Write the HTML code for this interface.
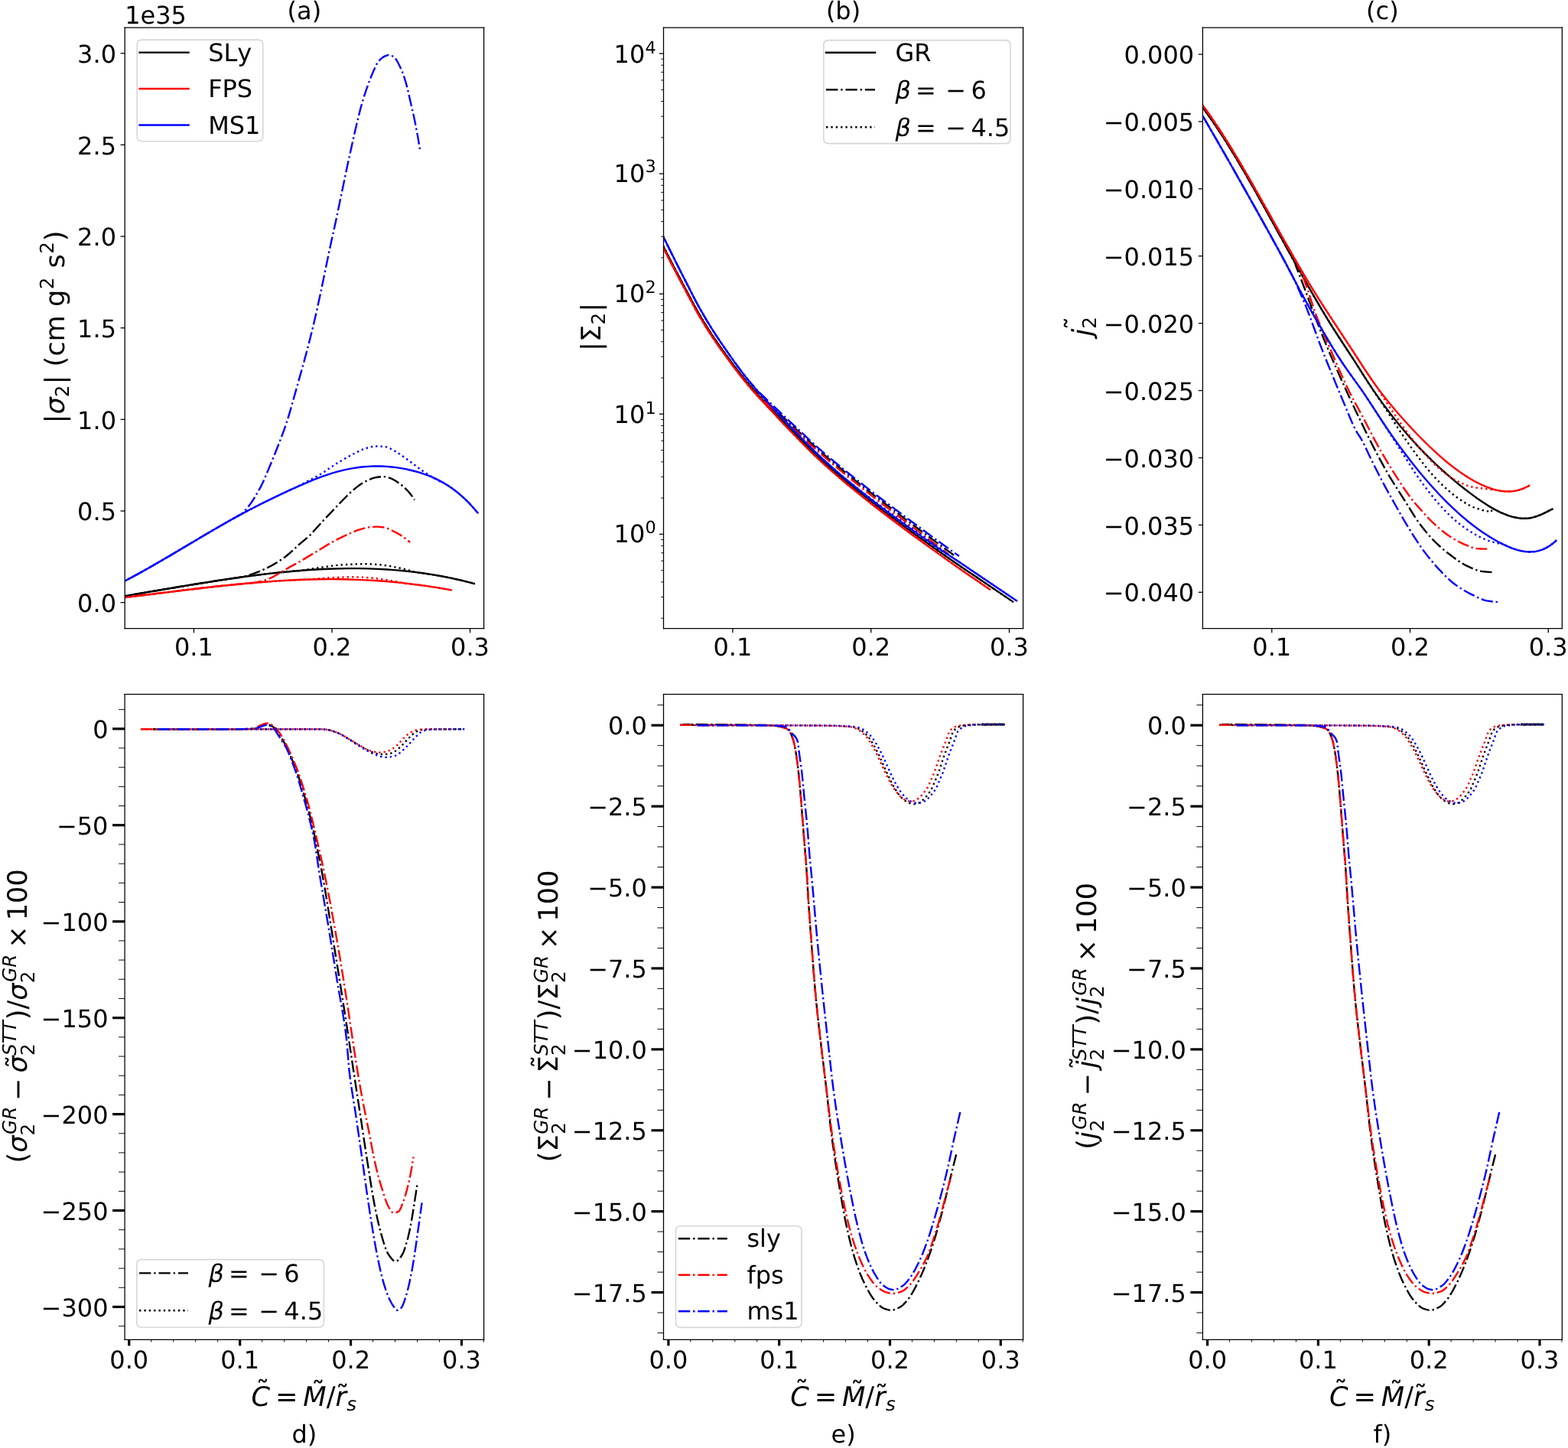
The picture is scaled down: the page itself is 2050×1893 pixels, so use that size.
<!DOCTYPE html>
<html lang="en">
<head>
<meta charset="utf-8">
<title>Figure</title>
<style>html,body{margin:0;padding:0;background:#fff}svg{display:block}text{font-family:"DejaVu Sans","Liberation Sans",sans-serif;font-kerning:none;font-variant-ligatures:none;text-rendering:geometricPrecision}</style>
</head>
<body>
<svg width="2050" height="1893" viewBox="0 0 1281.25 1183.125"><defs><style type="text/css">*{stroke-linejoin: round; stroke-linecap: butt}</style></defs><g><g><path d="M 0 1183.12 L 1281.25 1183.12 L 1281.25 0 L 0 0 z" style="fill: #ffffff"/></g><g><g><path d="M 102 513.56 L 395.38 513.56 L 395.38 22.56 L 102 22.56 z" style="fill: #ffffff"/></g><g><g><g><g><path d="M 0 0 L 0 3.5" transform="translate(158.42 513.56)" style="stroke: #000000; stroke-width: 0.8"/></g></g><g><text style="font-size: 20px; font-family: 'DejaVu Sans', 'Liberation Sans', sans-serif; text-anchor: middle" x="158.42" y="535.76" transform="rotate(-0 158.418269 535.759375)">0.1</text></g></g><g><g><g><path d="M 0 0 L 0 3.5" transform="translate(271.25 513.56)" style="stroke: #000000; stroke-width: 0.8"/></g></g><g><text style="font-size: 20px; font-family: 'DejaVu Sans', 'Liberation Sans', sans-serif; text-anchor: middle" x="271.25" y="535.76" transform="rotate(-0 271.254808 535.759375)">0.2</text></g></g><g><g><g><path d="M 0 0 L 0 3.5" transform="translate(384.09 513.56)" style="stroke: #000000; stroke-width: 0.8"/></g></g><g><text style="font-size: 20px; font-family: 'DejaVu Sans', 'Liberation Sans', sans-serif; text-anchor: middle" x="384.09" y="535.76" transform="rotate(-0 384.091346 535.759375)">0.3</text></g></g></g><g><g><g><g><path d="M 0 0 L -3.5 0" transform="translate(102 492.31)" style="stroke: #000000; stroke-width: 0.8"/></g></g><g><text style="font-size: 20px; font-family: 'DejaVu Sans', 'Liberation Sans', sans-serif; text-anchor: end" x="95" y="499.91" transform="rotate(-0 95 499.910938)">0.0</text></g></g><g><g><g><path d="M 0 0 L -3.5 0" transform="translate(102 417.52)" style="stroke: #000000; stroke-width: 0.8"/></g></g><g><text style="font-size: 20px; font-family: 'DejaVu Sans', 'Liberation Sans', sans-serif; text-anchor: end" x="95" y="425.12" transform="rotate(-0 95 425.119271)">0.5</text></g></g><g><g><g><path d="M 0 0 L -3.5 0" transform="translate(102 342.73)" style="stroke: #000000; stroke-width: 0.8"/></g></g><g><text style="font-size: 20px; font-family: 'DejaVu Sans', 'Liberation Sans', sans-serif; text-anchor: end" x="95" y="350.33" transform="rotate(-0 95 350.327604)">1.0</text></g></g><g><g><g><path d="M 0 0 L -3.5 0" transform="translate(102 267.94)" style="stroke: #000000; stroke-width: 0.8"/></g></g><g><text style="font-size: 20px; font-family: 'DejaVu Sans', 'Liberation Sans', sans-serif; text-anchor: end" x="95" y="275.54" transform="rotate(-0 95 275.535938)">1.5</text></g></g><g><g><g><path d="M 0 0 L -3.5 0" transform="translate(102 193.15)" style="stroke: #000000; stroke-width: 0.8"/></g></g><g><text style="font-size: 20px; font-family: 'DejaVu Sans', 'Liberation Sans', sans-serif; text-anchor: end" x="95" y="200.74" transform="rotate(-0 95 200.744271)">2.0</text></g></g><g><g><g><path d="M 0 0 L -3.5 0" transform="translate(102 118.35)" style="stroke: #000000; stroke-width: 0.8"/></g></g><g><text style="font-size: 20px; font-family: 'DejaVu Sans', 'Liberation Sans', sans-serif; text-anchor: end" x="95" y="125.95" transform="rotate(-0 95 125.952604)">2.5</text></g></g><g><g><g><path d="M 0 0 L -3.5 0" transform="translate(102 43.56)" style="stroke: #000000; stroke-width: 0.8"/></g></g><g><text style="font-size: 20px; font-family: 'DejaVu Sans', 'Liberation Sans', sans-serif; text-anchor: end" x="95" y="51.16" transform="rotate(-0 95 51.160938)">3.0</text></g></g><g><g transform="translate(52.51375 345.885) rotate(-90)"><text><tspan x="0" y="-0.15" style="font-size: 22px; font-family: 'DejaVu Sans', 'Liberation Sans', sans-serif">|</tspan><tspan x="31.75" y="-0.15" style="font-size: 22px; font-family: 'DejaVu Sans', 'Liberation Sans', sans-serif">|</tspan><tspan x="39.17" y="-0.15" style="font-size: 22px; font-family: 'DejaVu Sans', 'Liberation Sans', sans-serif"> </tspan><tspan x="46.16" y="-0.15" style="font-size: 22px; font-family: 'DejaVu Sans', 'Liberation Sans', sans-serif">(</tspan><tspan x="54.74" y="-0.15" style="font-size: 22px; font-family: 'DejaVu Sans', 'Liberation Sans', sans-serif">c</tspan><tspan x="66.84" y="-0.15" style="font-size: 22px; font-family: 'DejaVu Sans', 'Liberation Sans', sans-serif">m</tspan><tspan x="88.27" y="-0.15" style="font-size: 22px; font-family: 'DejaVu Sans', 'Liberation Sans', sans-serif"> </tspan><tspan x="95.26" y="-0.15" style="font-size: 22px; font-family: 'DejaVu Sans', 'Liberation Sans', sans-serif">g</tspan><tspan x="119.84" y="-0.15" style="font-size: 22px; font-family: 'DejaVu Sans', 'Liberation Sans', sans-serif"> </tspan><tspan x="126.83" y="-0.15" style="font-size: 22px; font-family: 'DejaVu Sans', 'Liberation Sans', sans-serif">s</tspan><tspan x="148.9" y="-0.15" style="font-size: 22px; font-family: 'DejaVu Sans', 'Liberation Sans', sans-serif">)</tspan><tspan x="7.41" y="-0.15" style="font-style: italic; font-size: 22px; font-family: 'DejaVu Sans', 'Liberation Sans', sans-serif">σ</tspan><tspan x="21.36" y="3.46" style="font-size: 15.4px; font-family: 'DejaVu Sans', 'Liberation Sans', sans-serif">2</tspan><tspan x="109.44" y="-8.57" style="font-size: 15.4px; font-family: 'DejaVu Sans', 'Liberation Sans', sans-serif">2</tspan><tspan x="138.5" y="-8.57" style="font-size: 15.4px; font-family: 'DejaVu Sans', 'Liberation Sans', sans-serif">2</tspan></text></g></g><g><text style="font-size: 20px; font-family: 'DejaVu Sans', 'Liberation Sans', sans-serif; text-anchor: start" x="102" y="19.56" transform="rotate(-0 102 19.5625)">1e35</text></g></g><g><path d="M 93.75 488.45 L 144.99 479.72 L 163.11 476.71 L 183.11 473.58 L 200.6 471.08 L 209.98 469.86 L 218.72 468.81 L 227.47 467.85 L 236.22 466.99 L 244.97 466.24 L 253.09 465.65 L 261.21 465.17 L 268.71 464.83 L 276.84 464.58 L 284.96 464.45 L 293.08 464.47 L 300.58 464.6 L 308.7 464.9 L 316.2 465.31 L 323.7 465.86 L 331.2 466.55 L 338.7 467.39 L 345.57 468.3 L 353.07 469.44 L 359.94 470.64 L 367.44 472.1 L 374.32 473.6 L 381.19 475.25 L 388.06 477.05" clip-path="url(#pccfc6aae4c)" style="fill: none; stroke: #000000; stroke-width: 1.5"/></g><g><path d="M 93.75 488.45 L 144.99 479.72 L 161.86 476.92 L 181.23 473.86 L 198.1 471.42 L 202.69 470.14 L 206.76 468.81 L 211.76 466.91 L 216.45 464.91 L 219.27 463.53 L 222.08 462.03 L 224.9 460.41 L 228.03 458.49 L 230.22 457.02 L 232.41 455.43 L 234.59 453.73 L 237.1 451.68 L 238.66 450.28 L 243.98 445.24 L 250.55 439.79 L 253.36 437.21 L 255.86 434.57 L 262.12 427.5 L 271.5 417.66 L 277.45 411.32 L 283.39 405.3 L 287.14 401.72 L 289.02 400.09 L 292.15 397.6 L 294.34 395.96 L 296.21 394.69 L 298.09 393.61 L 300.28 392.56 L 302.78 391.45 L 304.66 390.75 L 306.53 390.22 L 308.72 389.84 L 311.23 389.53 L 313.41 389.44 L 314.98 389.62 L 316.86 390.09 L 319.36 390.88 L 320.92 391.58 L 323.11 392.85 L 326.55 395.18 L 328.74 396.87 L 330.93 398.8 L 333.12 400.99 L 334.68 402.77 L 336.56 405.23 L 338.75 408.44" clip-path="url(#pccfc6aae4c)" style="fill: none; stroke-dasharray: 9.6,2.4,1.5,2.4; stroke-dashoffset: 0; stroke: #000000; stroke-width: 1.5"/></g><g><path d="M 93.75 488.45 L 144.36 479.83 L 159.99 477.22 L 178.73 474.24 L 194.98 471.85 L 208.73 470.02 L 221.85 468.45 L 236.22 466.99 L 243.72 466.34 L 243.75 466.44 L 249.69 465.61 L 260.62 463.88 L 270.31 462.49 L 274.69 461.93 L 279.69 461.47 L 290.31 460.93 L 297.5 460.75 L 302.5 460.85 L 306.56 461.12 L 312.5 461.65 L 316.88 462.23 L 320.31 462.86 L 326.25 464.06 L 331.25 465.19 L 336.25 466.53 L 341.25 468.19 L 341.82 467.79 L 343.7 468.04 L 353.07 469.44 L 361.82 470.99 L 368.69 472.36 L 374.94 473.74 L 381.81 475.4 L 388.06 477.05" clip-path="url(#pccfc6aae4c)" style="fill: none; stroke-dasharray: 1.5,2.475; stroke-dashoffset: 0; stroke: #000000; stroke-width: 1.5"/></g><g><path d="M 93.75 489.21 L 159.98 481.08 L 177.48 479.08 L 193.1 477.46 L 209.97 475.92 L 225.6 474.76 L 240.59 473.92 L 248.09 473.62 L 254.96 473.41 L 262.46 473.27 L 269.96 473.23 L 277.46 473.28 L 284.33 473.41 L 291.83 473.65 L 298.7 473.96 L 306.2 474.39 L 313.08 474.88 L 320.57 475.51 L 327.45 476.19 L 334.32 476.95 L 341.19 477.81 L 348.69 478.84 L 355.57 479.9 L 362.44 481.04 L 369.31 482.28" clip-path="url(#pccfc6aae4c)" style="fill: none; stroke: #ff0000; stroke-width: 1.5"/></g><g><path d="M 93.75 489.21 L 148.74 482.43 L 168.11 480.13 L 179.98 478.81 L 190.6 477.7 L 203.73 476.46 L 204.97 476.35 L 205 476.44 L 206.56 476.28 L 208.13 476.06 L 210 475.7 L 213.75 474.77 L 216.88 473.83 L 219.69 472.89 L 221.57 472.07 L 224.07 470.78 L 229.39 467.79 L 236.58 463.39 L 243.14 459.9 L 246.9 457.75 L 268.78 444.45 L 272.53 442.36 L 277.22 439.92 L 283.16 437.05 L 288.48 434.68 L 290.98 433.65 L 293.17 432.88 L 295.36 432.24 L 298.17 431.49 L 300.36 431.01 L 302.23 430.72 L 304.42 430.52 L 306.61 430.39 L 308.49 430.39 L 310.68 430.53 L 313.18 430.82 L 314.43 431.06 L 315.68 431.44 L 317.87 432.34 L 322.24 434.41 L 324.12 435.38 L 326.31 436.63 L 328.81 438.21 L 330.69 439.53 L 332.87 441.25 L 335.06 443.12" clip-path="url(#pccfc6aae4c)" style="fill: none; stroke-dasharray: 9.6,2.4,1.5,2.4; stroke-dashoffset: 0; stroke: #ff0000; stroke-width: 1.5"/></g><g><path d="M 93.75 489.21 L 146.86 482.66 L 163.11 480.71 L 181.86 478.61 L 198.73 476.92 L 213.1 475.67 L 226.22 474.72 L 234.34 474.24 L 241.84 473.87 L 246.84 473.67 L 246.88 473.81 L 267.19 472.15 L 272.81 471.87 L 282.5 471.53 L 289.38 471.44 L 293.75 471.54 L 297.5 471.76 L 303.44 472.21 L 307.5 472.64 L 317.81 474.15 L 323.12 475.03 L 327.5 475.9 L 331.88 477 L 332.45 476.73 L 339.32 477.56 L 346.19 478.49 L 358.07 480.3 L 369.31 482.28" clip-path="url(#pccfc6aae4c)" style="fill: none; stroke-dasharray: 1.5,2.475; stroke-dashoffset: 0; stroke: #ff0000; stroke-width: 1.5"/></g><g><path d="M 93.75 478.88 L 100.63 475.41 L 107.51 471.79 L 115.01 467.71 L 123.14 463.15 L 138.14 454.44 L 172.53 434.07 L 180.66 429.35 L 188.16 425.09 L 195.04 421.29 L 201.3 417.92 L 207.55 414.65 L 214.43 411.16 L 225.68 405.66 L 237.56 400.12 L 247.56 395.66 L 256.32 392.02 L 263.82 389.19 L 267.57 387.89 L 271.32 386.69 L 275.08 385.58 L 278.2 384.74 L 281.95 383.84 L 285.08 383.18 L 289.46 382.4 L 293.21 381.86 L 296.96 381.44 L 300.71 381.14 L 304.46 380.96 L 308.22 380.91 L 311.97 380.97 L 315.72 381.16 L 320.1 381.53 L 323.85 381.98 L 327.6 382.55 L 331.35 383.24 L 335.1 384.06 L 338.85 385 L 342.6 386.06 L 346.36 387.27 L 349.48 388.4 L 352.61 389.65 L 355.74 391.03 L 358.86 392.57 L 361.99 394.27 L 364.49 395.75 L 367.62 397.77 L 370.12 399.52 L 373.24 401.9 L 375.74 403.96 L 378.24 406.17 L 380.75 408.52 L 383.25 411.04 L 385.75 413.72 L 388.25 416.57 L 390.75 419.6" clip-path="url(#pccfc6aae4c)" style="fill: none; stroke: #0000ff; stroke-width: 1.5"/></g><g><path d="M 93.75 478.88 L 100.63 475.41 L 107.51 471.79 L 115.01 467.71 L 122.51 463.5 L 137.52 454.81 L 165.03 438.48 L 176.28 431.88 L 187.54 425.45 L 197.54 419.93 L 197.69 419.69 L 199.88 417.53 L 201.44 415.76 L 203.31 413.43 L 205.5 410.48 L 207.38 407.56 L 210.51 402.27 L 212.38 398.97 L 213.94 395.99 L 215.2 393.34 L 216.45 390.47 L 221.45 378.56 L 224.57 370.93 L 229.89 357.36 L 233.02 348.75 L 234.89 343.09 L 237.08 335.83 L 248.33 295.9 L 251.15 285.42 L 254.27 273.16 L 256.78 262.78 L 259.28 251.79 L 261.78 240.23 L 269.28 204.02 L 274.28 181.31 L 283.66 136.25 L 289.29 110.62 L 292.1 98.57 L 294.29 89.89 L 295.85 84.16 L 297.73 78 L 299.61 72.42 L 301.79 66.35 L 303.67 61.56 L 306.8 54.36 L 307.73 52.47 L 308.67 50.92 L 309.61 49.77 L 310.86 48.48 L 312.11 47.39 L 313.36 46.52 L 314.61 45.88 L 316.49 45.16 L 317.43 44.96 L 318.36 44.98 L 318.99 45.12 L 319.61 45.34 L 320.87 45.95 L 321.8 46.51 L 322.74 47.38 L 323.37 48.16 L 324.3 49.59 L 325.24 51.27 L 326.49 53.79 L 328.68 58.6 L 329.93 61.95 L 331.81 68.02 L 333.06 72.78 L 338.06 94.74 L 339.31 100.62 L 341.19 110.53 L 343.38 123.5" clip-path="url(#pccfc6aae4c)" style="fill: none; stroke-dasharray: 9.6,2.4,1.5,2.4; stroke-dashoffset: 0; stroke: #0000ff; stroke-width: 1.5"/></g><g><path d="M 93.75 478.88 L 100.63 475.41 L 107.51 471.79 L 115.01 467.71 L 122.51 463.5 L 137.52 454.81 L 165.03 438.48 L 175.66 432.24 L 186.91 425.8 L 196.92 420.27 L 207.55 414.65 L 218.8 408.99 L 230.68 403.3 L 243.19 397.58 L 243.75 397.19 L 248.44 394.68 L 257.81 389.79 L 261.25 387.88 L 264.06 386.16 L 272.5 380.37 L 275.62 378.35 L 282.19 374.46 L 287.81 371.39 L 293.75 368.37 L 296.56 367.11 L 298.12 366.56 L 300.31 365.95 L 302.5 365.37 L 304.06 365.02 L 306.25 364.69 L 308.44 364.63 L 312.19 364.8 L 315.62 365.16 L 316.88 365.54 L 318.12 366.08 L 322.19 368.25 L 324.06 369.35 L 326.56 371 L 331.25 374.28 L 343.44 383.37 L 345.94 385.14 L 350.31 388.12 L 353.44 390.07 L 356.88 391.99 L 359.38 393.25 L 359.49 392.9 L 362.61 394.63 L 365.11 396.14 L 366.99 397.35 L 369.49 399.07 L 371.37 400.45 L 373.87 402.4 L 376.37 404.5 L 378.87 406.74 L 381.37 409.14 L 383.87 411.69 L 386.37 414.41 L 388.87 417.31 L 390.75 419.6" clip-path="url(#pccfc6aae4c)" style="fill: none; stroke-dasharray: 1.5,2.475; stroke-dashoffset: 0; stroke: #0000ff; stroke-width: 1.5"/></g><g><path d="M 102 513.56 L 102 22.56" style="fill: none; stroke: #000000; stroke-width: 0.8; stroke-linejoin: miter; stroke-linecap: square"/></g><g><path d="M 395.38 513.56 L 395.38 22.56" style="fill: none; stroke: #000000; stroke-width: 0.8; stroke-linejoin: miter; stroke-linecap: square"/></g><g><path d="M 102 513.56 L 395.38 513.56" style="fill: none; stroke: #000000; stroke-width: 0.8; stroke-linejoin: miter; stroke-linecap: square"/></g><g><path d="M 102 22.56 L 395.38 22.56" style="fill: none; stroke: #000000; stroke-width: 0.8; stroke-linejoin: miter; stroke-linecap: square"/></g><g><text style="font-size: 20px; font-family: 'DejaVu Sans', 'Liberation Sans', sans-serif; text-anchor: middle" x="248.69" y="15.81" transform="rotate(-0 248.6875 15.8125)">(a)</text></g><g><g><path d="M 116 115.43 L 210.88 115.43 Q 214.88 115.43 214.88 111.43 L 214.88 36.56 Q 214.88 32.56 210.88 32.56 L 116 32.56 Q 112 32.56 112 36.56 L 112 111.43 Q 112 115.43 116 115.43 z" style="fill: #ffffff; opacity: 0.8; stroke: #cccccc; stroke-linejoin: miter"/></g><g><path d="M 114.1 42.86 L 134.1 42.86 L 154.1 42.86" style="fill: none; stroke: #000000; stroke-width: 1.5; stroke-linecap: square"/></g><g><text style="font-size: 20px; font-family: 'DejaVu Sans', 'Liberation Sans', sans-serif; text-anchor: start" x="170.1" y="49.86" transform="rotate(-0 170.1 49.859375)">SLy</text></g><g><path d="M 114.1 72.52 L 134.1 72.52 L 154.1 72.52" style="fill: none; stroke: #ff0000; stroke-width: 1.5; stroke-linecap: square"/></g><g><text style="font-size: 20px; font-family: 'DejaVu Sans', 'Liberation Sans', sans-serif; text-anchor: start" x="170.1" y="79.52" transform="rotate(-0 170.1 79.515625)">FPS</text></g><g><path d="M 114.1 102.17 L 134.1 102.17 L 154.1 102.17" style="fill: none; stroke: #0000ff; stroke-width: 1.5; stroke-linecap: square"/></g><g><text style="font-size: 20px; font-family: 'DejaVu Sans', 'Liberation Sans', sans-serif; text-anchor: start" x="170.1" y="109.17" transform="rotate(-0 170.1 109.171875)">MS1</text></g></g></g><g><g><path d="M 542.19 513.56 L 836 513.56 L 836 22.56 L 542.19 22.56 z" style="fill: #ffffff"/></g><g><g><g><g><path d="M 0 0 L 0 3.5" transform="translate(598.69 513.56)" style="stroke: #000000; stroke-width: 0.8"/></g></g><g><text style="font-size: 20px; font-family: 'DejaVu Sans', 'Liberation Sans', sans-serif; text-anchor: middle" x="598.69" y="535.76" transform="rotate(-0 598.689904 535.759375)">0.1</text></g></g><g><g><g><path d="M 0 0 L 0 3.5" transform="translate(711.69 513.56)" style="stroke: #000000; stroke-width: 0.8"/></g></g><g><text style="font-size: 20px; font-family: 'DejaVu Sans', 'Liberation Sans', sans-serif; text-anchor: middle" x="711.69" y="535.76" transform="rotate(-0 711.694712 535.759375)">0.2</text></g></g><g><g><g><path d="M 0 0 L 0 3.5" transform="translate(824.7 513.56)" style="stroke: #000000; stroke-width: 0.8"/></g></g><g><text style="font-size: 20px; font-family: 'DejaVu Sans', 'Liberation Sans', sans-serif; text-anchor: middle" x="824.7" y="535.76" transform="rotate(-0 824.699519 535.759375)">0.3</text></g></g></g><g><g><g><g><path d="M 0 0 L -3.5 0" transform="translate(542.19 436.5)" style="stroke: #000000; stroke-width: 0.8"/></g></g><g><g transform="translate(501.5875 444.098438)"><text><tspan x="0" y="-0.95" style="font-size: 20px; font-family: 'DejaVu Sans', 'Liberation Sans', sans-serif">1</tspan><tspan x="12.72" y="-0.95" style="font-size: 20px; font-family: 'DejaVu Sans', 'Liberation Sans', sans-serif">0</tspan><tspan x="25.64" y="-8.61" style="font-size: 14px; font-family: 'DejaVu Sans', 'Liberation Sans', sans-serif">0</tspan></text></g></g></g><g><g><g><path d="M 0 0 L -3.5 0" transform="translate(542.19 338.31)" style="stroke: #000000; stroke-width: 0.8"/></g></g><g><g transform="translate(501.5875 345.910938)"><text><tspan x="0" y="-0.14" style="font-size: 20px; font-family: 'DejaVu Sans', 'Liberation Sans', sans-serif">1</tspan><tspan x="12.72" y="-0.14" style="font-size: 20px; font-family: 'DejaVu Sans', 'Liberation Sans', sans-serif">0</tspan><tspan x="25.64" y="-7.8" style="font-size: 14px; font-family: 'DejaVu Sans', 'Liberation Sans', sans-serif">1</tspan></text></g></g></g><g><g><g><path d="M 0 0 L -3.5 0" transform="translate(542.19 240.12)" style="stroke: #000000; stroke-width: 0.8"/></g></g><g><g transform="translate(501.5875 247.723438)"><text><tspan x="0" y="-0.95" style="font-size: 20px; font-family: 'DejaVu Sans', 'Liberation Sans', sans-serif">1</tspan><tspan x="12.72" y="-0.95" style="font-size: 20px; font-family: 'DejaVu Sans', 'Liberation Sans', sans-serif">0</tspan><tspan x="25.64" y="-8.61" style="font-size: 14px; font-family: 'DejaVu Sans', 'Liberation Sans', sans-serif">2</tspan></text></g></g></g><g><g><g><path d="M 0 0 L -3.5 0" transform="translate(542.19 141.94)" style="stroke: #000000; stroke-width: 0.8"/></g></g><g><g transform="translate(501.5875 149.535938)"><text><tspan x="0" y="-0.95" style="font-size: 20px; font-family: 'DejaVu Sans', 'Liberation Sans', sans-serif">1</tspan><tspan x="12.72" y="-0.95" style="font-size: 20px; font-family: 'DejaVu Sans', 'Liberation Sans', sans-serif">0</tspan><tspan x="25.64" y="-8.61" style="font-size: 14px; font-family: 'DejaVu Sans', 'Liberation Sans', sans-serif">3</tspan></text></g></g></g><g><g><g><path d="M 0 0 L -3.5 0" transform="translate(542.19 43.75)" style="stroke: #000000; stroke-width: 0.8"/></g></g><g><g transform="translate(501.5875 51.348438)"><text><tspan x="0" y="-0.14" style="font-size: 20px; font-family: 'DejaVu Sans', 'Liberation Sans', sans-serif">1</tspan><tspan x="12.72" y="-0.14" style="font-size: 20px; font-family: 'DejaVu Sans', 'Liberation Sans', sans-serif">0</tspan><tspan x="25.64" y="-7.8" style="font-size: 14px; font-family: 'DejaVu Sans', 'Liberation Sans', sans-serif">4</tspan></text></g></g></g><g><g><g><path d="M 0 0 L -2 0" transform="translate(542.19 505.13)" style="stroke: #000000; stroke-width: 0.6"/></g></g></g><g><g><g><path d="M 0 0 L -2 0" transform="translate(542.19 487.84)" style="stroke: #000000; stroke-width: 0.6"/></g></g></g><g><g><g><path d="M 0 0 L -2 0" transform="translate(542.19 475.57)" style="stroke: #000000; stroke-width: 0.6"/></g></g></g><g><g><g><path d="M 0 0 L -2 0" transform="translate(542.19 466.06)" style="stroke: #000000; stroke-width: 0.6"/></g></g></g><g><g><g><path d="M 0 0 L -2 0" transform="translate(542.19 458.28)" style="stroke: #000000; stroke-width: 0.6"/></g></g></g><g><g><g><path d="M 0 0 L -2 0" transform="translate(542.19 451.71)" style="stroke: #000000; stroke-width: 0.6"/></g></g></g><g><g><g><path d="M 0 0 L -2 0" transform="translate(542.19 446.02)" style="stroke: #000000; stroke-width: 0.6"/></g></g></g><g><g><g><path d="M 0 0 L -2 0" transform="translate(542.19 440.99)" style="stroke: #000000; stroke-width: 0.6"/></g></g></g><g><g><g><path d="M 0 0 L -2 0" transform="translate(542.19 406.94)" style="stroke: #000000; stroke-width: 0.6"/></g></g></g><g><g><g><path d="M 0 0 L -2 0" transform="translate(542.19 389.65)" style="stroke: #000000; stroke-width: 0.6"/></g></g></g><g><g><g><path d="M 0 0 L -2 0" transform="translate(542.19 377.39)" style="stroke: #000000; stroke-width: 0.6"/></g></g></g><g><g><g><path d="M 0 0 L -2 0" transform="translate(542.19 367.87)" style="stroke: #000000; stroke-width: 0.6"/></g></g></g><g><g><g><path d="M 0 0 L -2 0" transform="translate(542.19 360.1)" style="stroke: #000000; stroke-width: 0.6"/></g></g></g><g><g><g><path d="M 0 0 L -2 0" transform="translate(542.19 353.52)" style="stroke: #000000; stroke-width: 0.6"/></g></g></g><g><g><g><path d="M 0 0 L -2 0" transform="translate(542.19 347.83)" style="stroke: #000000; stroke-width: 0.6"/></g></g></g><g><g><g><path d="M 0 0 L -2 0" transform="translate(542.19 342.81)" style="stroke: #000000; stroke-width: 0.6"/></g></g></g><g><g><g><path d="M 0 0 L -2 0" transform="translate(542.19 308.76)" style="stroke: #000000; stroke-width: 0.6"/></g></g></g><g><g><g><path d="M 0 0 L -2 0" transform="translate(542.19 291.47)" style="stroke: #000000; stroke-width: 0.6"/></g></g></g><g><g><g><path d="M 0 0 L -2 0" transform="translate(542.19 279.2)" style="stroke: #000000; stroke-width: 0.6"/></g></g></g><g><g><g><path d="M 0 0 L -2 0" transform="translate(542.19 269.68)" style="stroke: #000000; stroke-width: 0.6"/></g></g></g><g><g><g><path d="M 0 0 L -2 0" transform="translate(542.19 261.91)" style="stroke: #000000; stroke-width: 0.6"/></g></g></g><g><g><g><path d="M 0 0 L -2 0" transform="translate(542.19 255.33)" style="stroke: #000000; stroke-width: 0.6"/></g></g></g><g><g><g><path d="M 0 0 L -2 0" transform="translate(542.19 249.64)" style="stroke: #000000; stroke-width: 0.6"/></g></g></g><g><g><g><path d="M 0 0 L -2 0" transform="translate(542.19 244.62)" style="stroke: #000000; stroke-width: 0.6"/></g></g></g><g><g><g><path d="M 0 0 L -2 0" transform="translate(542.19 210.57)" style="stroke: #000000; stroke-width: 0.6"/></g></g></g><g><g><g><path d="M 0 0 L -2 0" transform="translate(542.19 193.28)" style="stroke: #000000; stroke-width: 0.6"/></g></g></g><g><g><g><path d="M 0 0 L -2 0" transform="translate(542.19 181.01)" style="stroke: #000000; stroke-width: 0.6"/></g></g></g><g><g><g><path d="M 0 0 L -2 0" transform="translate(542.19 171.49)" style="stroke: #000000; stroke-width: 0.6"/></g></g></g><g><g><g><path d="M 0 0 L -2 0" transform="translate(542.19 163.72)" style="stroke: #000000; stroke-width: 0.6"/></g></g></g><g><g><g><path d="M 0 0 L -2 0" transform="translate(542.19 157.15)" style="stroke: #000000; stroke-width: 0.6"/></g></g></g><g><g><g><path d="M 0 0 L -2 0" transform="translate(542.19 151.45)" style="stroke: #000000; stroke-width: 0.6"/></g></g></g><g><g><g><path d="M 0 0 L -2 0" transform="translate(542.19 146.43)" style="stroke: #000000; stroke-width: 0.6"/></g></g></g><g><g><g><path d="M 0 0 L -2 0" transform="translate(542.19 112.38)" style="stroke: #000000; stroke-width: 0.6"/></g></g></g><g><g><g><path d="M 0 0 L -2 0" transform="translate(542.19 95.09)" style="stroke: #000000; stroke-width: 0.6"/></g></g></g><g><g><g><path d="M 0 0 L -2 0" transform="translate(542.19 82.82)" style="stroke: #000000; stroke-width: 0.6"/></g></g></g><g><g><g><path d="M 0 0 L -2 0" transform="translate(542.19 73.31)" style="stroke: #000000; stroke-width: 0.6"/></g></g></g><g><g><g><path d="M 0 0 L -2 0" transform="translate(542.19 65.53)" style="stroke: #000000; stroke-width: 0.6"/></g></g></g><g><g><g><path d="M 0 0 L -2 0" transform="translate(542.19 58.96)" style="stroke: #000000; stroke-width: 0.6"/></g></g></g><g><g><g><path d="M 0 0 L -2 0" transform="translate(542.19 53.27)" style="stroke: #000000; stroke-width: 0.6"/></g></g></g><g><g><g><path d="M 0 0 L -2 0" transform="translate(542.19 48.24)" style="stroke: #000000; stroke-width: 0.6"/></g></g></g><g><g transform="translate(491.1075 286.815) rotate(-90)"><text><tspan x="0" y="-0.19" style="font-size: 22px; font-family: 'DejaVu Sans', 'Liberation Sans', sans-serif">|</tspan><tspan x="7.41" y="-0.19" style="font-size: 22px; font-family: 'DejaVu Sans', 'Liberation Sans', sans-serif">Σ</tspan><tspan x="31.92" y="-0.19" style="font-size: 22px; font-family: 'DejaVu Sans', 'Liberation Sans', sans-serif">|</tspan><tspan x="21.52" y="3.42" style="font-size: 15.4px; font-family: 'DejaVu Sans', 'Liberation Sans', sans-serif">2</tspan></text></g></g></g><g><path d="M 531.25 179.81 L 539.38 196.12 L 546.88 210.85 L 553.75 224.05 L 566.88 248.85 L 570 254.5 L 573.75 260.9 L 577.5 267 L 581.88 273.8 L 585 278.45 L 588.12 282.95 L 595.62 293.29 L 603.12 303.27 L 606.88 308.06 L 610 311.94 L 614.38 317.12 L 618.75 322.01 L 641.25 346.04 L 650.62 355.72 L 660 365.18 L 666.88 371.88 L 673.12 377.67 L 681.25 384.85 L 690 392.28 L 700.62 400.98 L 711.25 409.44 L 721.88 417.59 L 735.62 427.85 L 746.88 436.09 L 758.75 444.56 L 772.5 454.18 L 788.12 464.93 L 828.12 491.95" clip-path="url(#peeb04d4fbf)" style="fill: none; stroke: #000000; stroke-width: 1.5"/></g><g><path d="M 531.25 179.82 L 536.88 191.15 L 542.5 202.31 L 547.5 212.07 L 553.12 222.87 L 567.5 250.01 L 570.62 255.6 L 574.38 261.94 L 578.12 268 L 582.5 274.75 L 586.88 281.17 L 591.25 287.31 L 598.12 296.65 L 604.38 304.85 L 609.38 311.09 L 613.75 316.17 L 616.88 319.49 L 620 322.54 L 634.38 335.54 L 645.62 346.18 L 661.88 361.24 L 671.25 369.65 L 677.5 375.03 L 683.75 380.27 L 691.25 386.42 L 700.62 393.96 L 709.38 400.9 L 718.75 408.16 L 746.25 429.02 L 779.38 453.63" clip-path="url(#peeb04d4fbf)" style="fill: none; stroke-dasharray: 9.6,2.4,1.5,2.4; stroke-dashoffset: 0; stroke: #000000; stroke-width: 1.5"/></g><g><path d="M 531.25 179.81 L 539.38 196.13 L 546.88 210.86 L 553.75 224.05 L 566.88 248.85 L 570 254.5 L 573.75 260.9 L 577.5 267 L 581.88 273.8 L 585 278.45 L 588.12 282.95 L 595.62 293.29 L 603.12 303.27 L 606.88 308.06 L 610 311.93 L 614.38 317.12 L 618.75 322.01 L 641.25 346.04 L 648.75 353.8 L 658.75 363.93 L 665 370.07 L 670.62 375.37 L 677.5 381.54 L 684.38 387.45 L 691.25 393.13 L 700 400.09 L 709.38 407.32 L 720 415.29 L 745 433.76 L 775.62 456.24 L 782.5 461.06 L 790.62 466.63 L 828.12 491.95" clip-path="url(#peeb04d4fbf)" style="fill: none; stroke-dasharray: 1.5,2.475; stroke-dashoffset: 0; stroke: #000000; stroke-width: 1.5"/></g><g><path d="M 531.25 180.94 L 537.5 193.52 L 543.75 205.89 L 549.38 216.82 L 555.62 228.77 L 568.12 252.35 L 571.88 258.94 L 576.25 266.2 L 581.25 274.06 L 586.25 281.48 L 591.25 288.54 L 598.75 298.73 L 604.38 306.12 L 610 313.18 L 615 319.09 L 620 324.63 L 636.88 342.73 L 643.12 349.35 L 654.38 360.93 L 662.5 369.09 L 669.38 375.7 L 676.25 381.98 L 683.75 388.55 L 692.5 395.94 L 705.62 406.65 L 715.62 414.55 L 728.12 424.09 L 745 436.68 L 760 447.58 L 776.25 459.14 L 790.62 469.16 L 809.38 481.97" clip-path="url(#peeb04d4fbf)" style="fill: none; stroke: #ff0000; stroke-width: 1.5"/></g><g><path d="M 531.25 180.94 L 536.88 192.27 L 542.5 203.43 L 553.12 224.02 L 567.5 251.2 L 570.62 256.79 L 574.38 263.14 L 578.12 269.2 L 582.5 275.96 L 586.88 282.38 L 591.25 288.53 L 598.12 297.88 L 604.38 306.09 L 609.38 312.34 L 613.75 317.43 L 616.88 320.75 L 620 323.81 L 626.25 329.52 L 629.38 332.26 L 635 337.43 L 645.62 347.54 L 663.12 363.92 L 671.88 371.81 L 682.5 380.93 L 690 387.15 L 698.75 394.26 L 708.12 401.78 L 715.62 407.66 L 741.88 427.74 L 775 452.74" clip-path="url(#peeb04d4fbf)" style="fill: none; stroke-dasharray: 9.6,2.4,1.5,2.4; stroke-dashoffset: 0; stroke: #ff0000; stroke-width: 1.5"/></g><g><path d="M 531.25 180.94 L 537.5 193.52 L 543.75 205.89 L 549.38 216.83 L 555.62 228.77 L 568.12 252.35 L 571.88 258.94 L 576.25 266.2 L 581.25 274.06 L 586.25 281.48 L 591.25 288.54 L 598.75 298.73 L 604.38 306.12 L 610 313.18 L 615 319.09 L 620 324.63 L 636.88 342.73 L 643.12 349.35 L 653.75 360.29 L 661.25 367.84 L 667.5 373.92 L 673.12 379.13 L 680 385.23 L 687.5 391.6 L 692.5 395.69 L 698.12 400.2 L 705.62 406.07 L 711.88 410.88 L 771.25 455.49 L 778.12 460.44 L 787.5 467 L 809.38 481.98" clip-path="url(#peeb04d4fbf)" style="fill: none; stroke-dasharray: 1.5,2.475; stroke-dashoffset: 0; stroke: #ff0000; stroke-width: 1.5"/></g><g><path d="M 531.25 171.19 L 539.38 188 L 548.12 205.78 L 555.62 220.73 L 567.5 244.08 L 570.62 249.91 L 574.38 256.53 L 578.12 262.86 L 582.5 269.92 L 585.62 274.75 L 588.75 279.45 L 596.88 291.18 L 603.75 300.7 L 606.88 304.84 L 610 308.85 L 614.38 314.18 L 618.75 319.18 L 634.38 336.27 L 641.25 343.69 L 650.62 353.51 L 660 363.13 L 666.88 369.92 L 673.12 375.79 L 681.25 383.06 L 690 390.54 L 700 398.73 L 710.62 407.16 L 721.25 415.25 L 734.38 424.95 L 746.25 433.58 L 758.12 441.96 L 767.5 448.41 L 785 460.06 L 831.25 491.25" clip-path="url(#peeb04d4fbf)" style="fill: none; stroke: #0000ff; stroke-width: 1.5"/></g><g><path d="M 531.25 171.19 L 537.5 184.15 L 544.38 198.2 L 550.62 210.8 L 556.88 223.2 L 568.12 245.27 L 571.25 251.03 L 575.62 258.67 L 580 265.93 L 585 273.8 L 590 281.29 L 596.88 291.17 L 601.88 298.13 L 606.88 304.81 L 611.88 311.07 L 616.25 316.18 L 618.12 318.22 L 621.25 321.39 L 626.88 326.82 L 644.38 343.46 L 661.88 359.87 L 666.88 364.45 L 671.25 368.33 L 677.5 373.68 L 683.75 378.89 L 693.75 387.03 L 705 395.94 L 712.5 401.77 L 721.25 408.42 L 743.12 424.84 L 756.88 435.04 L 766.88 442.35 L 783.75 454.43" clip-path="url(#peeb04d4fbf)" style="fill: none; stroke-dasharray: 9.6,2.4,1.5,2.4; stroke-dashoffset: 0; stroke: #0000ff; stroke-width: 1.5"/></g><g><path d="M 531.25 171.19 L 539.38 188 L 548.12 205.78 L 555.62 220.73 L 567.5 244.08 L 570.62 249.91 L 574.38 256.53 L 578.12 262.86 L 582.5 269.92 L 585.62 274.75 L 588.75 279.45 L 596.88 291.18 L 603.75 300.69 L 606.88 304.84 L 610 308.85 L 614.38 314.18 L 618.75 319.18 L 634.38 336.27 L 641.25 343.69 L 650 352.86 L 659.38 362.49 L 665.62 368.7 L 671.25 374.05 L 678.12 380.28 L 685.62 386.77 L 693.12 392.98 L 701.88 399.9 L 710 406.11 L 720 413.5 L 747.5 433.49 L 770 449.63 L 780.62 457.05 L 790.62 463.86 L 830 490.42" clip-path="url(#peeb04d4fbf)" style="fill: none; stroke-dasharray: 1.5,2.475; stroke-dashoffset: 0; stroke: #0000ff; stroke-width: 1.5"/></g><g><path d="M 542.19 513.56 L 542.19 22.56" style="fill: none; stroke: #000000; stroke-width: 0.8; stroke-linejoin: miter; stroke-linecap: square"/></g><g><path d="M 836 513.56 L 836 22.56" style="fill: none; stroke: #000000; stroke-width: 0.8; stroke-linejoin: miter; stroke-linecap: square"/></g><g><path d="M 542.19 513.56 L 836 513.56" style="fill: none; stroke: #000000; stroke-width: 0.8; stroke-linejoin: miter; stroke-linecap: square"/></g><g><path d="M 542.19 22.56 L 836 22.56" style="fill: none; stroke: #000000; stroke-width: 0.8; stroke-linejoin: miter; stroke-linecap: square"/></g><g><text style="font-size: 20px; font-family: 'DejaVu Sans', 'Liberation Sans', sans-serif; text-anchor: middle" x="689.09" y="15.81" transform="rotate(-0 689.09375 15.8125)">(b)</text></g></g><g><g><path d="M 982.75 513.56 L 1276.44 513.56 L 1276.44 22.56 L 982.75 22.56 z" style="fill: #ffffff"/></g><g><g><g><g><path d="M 0 0 L 0 3.5" transform="translate(1039.23 513.56)" style="stroke: #000000; stroke-width: 0.8"/></g></g><g><text style="font-size: 20px; font-family: 'DejaVu Sans', 'Liberation Sans', sans-serif; text-anchor: middle" x="1039.23" y="535.76" transform="rotate(-0 1039.228365 535.759375)">0.1</text></g></g><g><g><g><path d="M 0 0 L 0 3.5" transform="translate(1152.19 513.56)" style="stroke: #000000; stroke-width: 0.8"/></g></g><g><text style="font-size: 20px; font-family: 'DejaVu Sans', 'Liberation Sans', sans-serif; text-anchor: middle" x="1152.19" y="535.76" transform="rotate(-0 1152.185096 535.759375)">0.2</text></g></g><g><g><g><path d="M 0 0 L 0 3.5" transform="translate(1265.14 513.56)" style="stroke: #000000; stroke-width: 0.8"/></g></g><g><text style="font-size: 20px; font-family: 'DejaVu Sans', 'Liberation Sans', sans-serif; text-anchor: middle" x="1265.14" y="535.76" transform="rotate(-0 1265.141827 535.759375)">0.3</text></g></g></g><g><g><g><g><path d="M 0 0 L -3.5 0" transform="translate(982.75 483.94)" style="stroke: #000000; stroke-width: 0.8"/></g></g><g><text style="font-size: 20px; font-family: 'DejaVu Sans', 'Liberation Sans', sans-serif; text-anchor: end" x="975.75" y="491.54" transform="rotate(-0 975.75 491.535938)">−0.040</text></g></g><g><g><g><path d="M 0 0 L -3.5 0" transform="translate(982.75 428.99)" style="stroke: #000000; stroke-width: 0.8"/></g></g><g><text style="font-size: 20px; font-family: 'DejaVu Sans', 'Liberation Sans', sans-serif; text-anchor: end" x="975.75" y="436.59" transform="rotate(-0 975.75 436.590625)">−0.035</text></g></g><g><g><g><path d="M 0 0 L -3.5 0" transform="translate(982.75 374.05)" style="stroke: #000000; stroke-width: 0.8"/></g></g><g><text style="font-size: 20px; font-family: 'DejaVu Sans', 'Liberation Sans', sans-serif; text-anchor: end" x="975.75" y="381.65" transform="rotate(-0 975.75 381.645313)">−0.030</text></g></g><g><g><g><path d="M 0 0 L -3.5 0" transform="translate(982.75 319.1)" style="stroke: #000000; stroke-width: 0.8"/></g></g><g><text style="font-size: 20px; font-family: 'DejaVu Sans', 'Liberation Sans', sans-serif; text-anchor: end" x="975.75" y="326.7" transform="rotate(-0 975.75 326.7)">−0.025</text></g></g><g><g><g><path d="M 0 0 L -3.5 0" transform="translate(982.75 264.16)" style="stroke: #000000; stroke-width: 0.8"/></g></g><g><text style="font-size: 20px; font-family: 'DejaVu Sans', 'Liberation Sans', sans-serif; text-anchor: end" x="975.75" y="271.75" transform="rotate(-0 975.75 271.754688)">−0.020</text></g></g><g><g><g><path d="M 0 0 L -3.5 0" transform="translate(982.75 209.21)" style="stroke: #000000; stroke-width: 0.8"/></g></g><g><text style="font-size: 20px; font-family: 'DejaVu Sans', 'Liberation Sans', sans-serif; text-anchor: end" x="975.75" y="216.81" transform="rotate(-0 975.75 216.809375)">−0.015</text></g></g><g><g><g><path d="M 0 0 L -3.5 0" transform="translate(982.75 154.27)" style="stroke: #000000; stroke-width: 0.8"/></g></g><g><text style="font-size: 20px; font-family: 'DejaVu Sans', 'Liberation Sans', sans-serif; text-anchor: end" x="975.75" y="161.86" transform="rotate(-0 975.75 161.864063)">−0.010</text></g></g><g><g><g><path d="M 0 0 L -3.5 0" transform="translate(982.75 99.32)" style="stroke: #000000; stroke-width: 0.8"/></g></g><g><text style="font-size: 20px; font-family: 'DejaVu Sans', 'Liberation Sans', sans-serif; text-anchor: end" x="975.75" y="106.92" transform="rotate(-0 975.75 106.91875)">−0.005</text></g></g><g><g><g><path d="M 0 0 L -3.5 0" transform="translate(982.75 44.38)" style="stroke: #000000; stroke-width: 0.8"/></g></g><g><text style="font-size: 20px; font-family: 'DejaVu Sans', 'Liberation Sans', sans-serif; text-anchor: end" x="975.75" y="51.97" transform="rotate(-0 975.75 51.973438)">0.000</text></g></g><g><g transform="translate(892.314375 274.735) rotate(-90)"><text><tspan x="16.17" y="-5.91" style="font-size: 22px; font-family: 'DejaVu Sans', 'Liberation Sans', sans-serif">̃</tspan><tspan x="0" y="-0.5" style="font-style: italic; font-size: 22px; font-family: 'DejaVu Sans', 'Liberation Sans', sans-serif">j</tspan><tspan x="6.11" y="3.11" style="font-size: 15.4px; font-family: 'DejaVu Sans', 'Liberation Sans', sans-serif">2</tspan></text></g></g></g><g><path d="M 975 77.9 L 978.75 82.57 L 983.13 88.3 L 986.88 93.44 L 991.26 99.69 L 995.64 106.19 L 1000.02 112.93 L 1005.02 120.88 L 1010.02 129.08 L 1018.15 142.86 L 1027.53 159.3 L 1036.91 176.13 L 1058.18 214.68 L 1069.44 234.71 L 1075.06 244.48 L 1080.07 252.98 L 1085.07 261.26 L 1089.45 268.29 L 1094.45 276.1 L 1106.33 294.29 L 1117.59 311.91 L 1121.34 317.57 L 1125.1 323.05 L 1131.35 331.77 L 1137.6 340.02 L 1143.86 347.82 L 1150.11 355.2 L 1154.49 360.14 L 1158.87 364.89 L 1163.25 369.46 L 1167.62 373.87 L 1172 378.12 L 1177 382.79 L 1181.38 386.72 L 1186.38 391.04 L 1191.39 395.2 L 1197.02 399.69 L 1202.02 403.52 L 1207.02 407.19 L 1211.4 410.21 L 1215.78 413.03 L 1219.53 415.25 L 1223.28 417.27 L 1226.41 418.79 L 1229.54 420.13 L 1232.66 421.3 L 1235.79 422.25 L 1238.92 422.97 L 1241.42 423.36 L 1243.92 423.58 L 1246.42 423.6 L 1248.92 423.43 L 1251.43 423.04 L 1253.3 422.61 L 1255.8 421.83 L 1258.31 420.86 L 1260.81 419.76 L 1268.94 415.72" clip-path="url(#pf3791add62)" style="fill: none; stroke: #000000; stroke-width: 1.5"/></g><g><path d="M 975 77.9 L 978.75 82.57 L 982.5 87.46 L 986.26 92.57 L 990.63 98.78 L 995.01 105.25 L 999.39 111.95 L 1003.77 118.87 L 1008.15 125.98 L 1012.52 133.27 L 1016.9 140.71 L 1026.91 158.19 L 1036.29 175 L 1058.18 214.68 L 1058.75 216.88 L 1065.93 235.53 L 1074.06 257.52 L 1078.43 268.82 L 1082.49 278.88 L 1086.55 288.59 L 1090.61 297.96 L 1096.55 311.33 L 1102.48 324.36 L 1108.42 337.01 L 1115.92 352.51 L 1121.54 363.82 L 1126.22 372.8 L 1131.22 381.98 L 1135.6 389.61 L 1139.66 396.26 L 1149.03 410.88 L 1155.9 421.99 L 1157.77 424.81 L 1159.65 427.41 L 1164.02 433.11 L 1166.21 435.77 L 1168.39 438.3 L 1170.58 440.67 L 1172.46 442.58 L 1174.64 444.69 L 1177.14 446.97 L 1179.64 449.12 L 1182.45 451.4 L 1189.95 457.05 L 1192.14 458.58 L 1194.32 460.01 L 1196.2 461.1 L 1198.07 462.07 L 1201.82 463.84 L 1204.32 464.93 L 1206.51 465.76 L 1208.69 466.41 L 1210.57 466.79 L 1214 467.18 L 1217.13 467.42 L 1219.94 467.5" clip-path="url(#pf3791add62)" style="fill: none; stroke-dasharray: 9.6,2.4,1.5,2.4; stroke-dashoffset: 0; stroke: #000000; stroke-width: 1.5"/></g><g><path d="M 975 77.9 L 978.75 82.57 L 983.13 88.3 L 986.88 93.44 L 991.26 99.69 L 995.64 106.19 L 1000.02 112.93 L 1005.02 120.88 L 1010.02 129.08 L 1018.15 142.86 L 1027.53 159.3 L 1036.91 176.13 L 1058.18 214.68 L 1069.44 234.71 L 1074.44 243.41 L 1079.44 251.93 L 1084.44 260.24 L 1088.82 267.3 L 1094.45 276.1 L 1106.33 294.29 L 1116.97 310.94 L 1121.34 317.57 L 1121.88 318.75 L 1126.88 326.05 L 1132.5 334.49 L 1137.5 342.16 L 1142.81 350.57 L 1145.94 355.29 L 1152.19 364.33 L 1157.81 372.11 L 1164.38 380.68 L 1166.56 383.4 L 1168.75 385.99 L 1173.75 391.46 L 1176.25 394.03 L 1178.75 396.46 L 1181.25 398.76 L 1184.69 401.78 L 1187.19 403.88 L 1189.69 405.84 L 1192.19 407.63 L 1195 409.46 L 1198.12 411.41 L 1200.62 412.84 L 1202.5 413.8 L 1204.38 414.63 L 1205.94 415.21 L 1208.75 416.08 L 1211.56 416.87 L 1214.06 417.45 L 1216.56 417.89 L 1218.75 418.12 L 1218.91 414.9 L 1222.66 416.95 L 1226.41 418.79 L 1230.16 420.38 L 1233.29 421.5 L 1236.42 422.41 L 1239.54 423.08 L 1242.67 423.49 L 1245.8 423.61 L 1248.3 423.49 L 1250.8 423.16 L 1252.68 422.77 L 1255.18 422.04 L 1257.68 421.12 L 1260.18 420.04 L 1263.31 418.55 L 1268.94 415.72" clip-path="url(#pf3791add62)" style="fill: none; stroke-dasharray: 1.5,2.475; stroke-dashoffset: 0; stroke: #000000; stroke-width: 1.5"/></g><g><path d="M 975 76.3 L 978.75 80.94 L 982.5 85.83 L 986.26 90.94 L 990.01 96.26 L 993.76 101.78 L 998.14 108.44 L 1001.89 114.33 L 1006.26 121.39 L 1013.77 133.89 L 1021.9 147.88 L 1030.03 162.19 L 1050.03 197.78 L 1060.04 215.22 L 1065.04 223.73 L 1070.04 232.05 L 1074.42 239.15 L 1079.42 247.08 L 1086.93 258.69 L 1104.43 285.28 L 1115.06 301.62 L 1120.69 310.01 L 1125.07 316.18 L 1130.07 322.82 L 1135.07 329.08 L 1140.7 335.79 L 1145.08 340.8 L 1149.45 345.66 L 1153.83 350.39 L 1158.21 354.98 L 1162.59 359.44 L 1166.96 363.75 L 1171.34 367.91 L 1175.09 371.34 L 1178.84 374.63 L 1182.59 377.79 L 1186.35 380.79 L 1190.1 383.64 L 1193.85 386.32 L 1197.6 388.83 L 1201.35 391.15 L 1204.48 392.94 L 1208.23 394.91 L 1211.36 396.39 L 1214.48 397.72 L 1217.61 398.89 L 1220.74 399.88 L 1223.86 400.67 L 1226.99 401.23 L 1229.49 401.5 L 1232.62 401.6 L 1235.12 401.49 L 1237.62 401.18 L 1240.12 400.67 L 1242.62 399.95 L 1245.12 399 L 1247.62 397.83 L 1250.12 396.41" clip-path="url(#pf3791add62)" style="fill: none; stroke: #ff0000; stroke-width: 1.5"/></g><g><path d="M 975 76.3 L 978.75 80.94 L 982.5 85.83 L 986.26 90.94 L 990.01 96.26 L 993.76 101.78 L 998.14 108.44 L 1001.89 114.33 L 1006.26 121.39 L 1013.77 133.89 L 1021.9 147.88 L 1030.03 162.19 L 1049.41 196.68 L 1059.41 214.15 L 1060 215.62 L 1061.88 219.77 L 1063.44 223.42 L 1065.32 228.04 L 1066.88 232.09 L 1069.07 238.37 L 1074.07 253.69 L 1075.64 258.06 L 1077.2 262.06 L 1079.39 267.35 L 1084.39 278.93 L 1092.21 297.48 L 1095.97 305.96 L 1099.72 314.13 L 1102.53 320 L 1105.35 325.54 L 1114.42 342.31 L 1122.55 358.03 L 1125.68 363.86 L 1129.74 371.02 L 1134.12 378.41 L 1138.19 385.01 L 1143.19 392.87 L 1147.57 399.51 L 1151.32 404.86 L 1154.45 408.95 L 1158.2 413.38 L 1164.77 420.78 L 1167.27 423.46 L 1169.46 425.7 L 1171.65 427.79 L 1174.78 430.6 L 1177.59 433 L 1180.1 435 L 1182.6 436.86 L 1184.79 438.34 L 1187.92 440.29 L 1191.04 442.09 L 1193.55 443.41 L 1195.73 444.45 L 1201.99 447.05 L 1203.24 447.5 L 1204.49 447.87 L 1206.37 448.22 L 1210.75 448.42 L 1215.12 448.5" clip-path="url(#pf3791add62)" style="fill: none; stroke-dasharray: 9.6,2.4,1.5,2.4; stroke-dashoffset: 0; stroke: #ff0000; stroke-width: 1.5"/></g><g><path d="M 975 76.3 L 978.75 80.94 L 982.5 85.83 L 986.26 90.94 L 990.01 96.26 L 993.76 101.78 L 998.14 108.44 L 1001.89 114.33 L 1006.26 121.39 L 1013.77 133.89 L 1021.9 147.88 L 1030.03 162.19 L 1050.03 197.78 L 1060.04 215.22 L 1065.04 223.73 L 1070.04 232.05 L 1075.05 240.15 L 1080.05 248.06 L 1087.55 259.64 L 1103.81 284.33 L 1116.31 303.51 L 1120.69 310.01 L 1124.44 315.32 L 1127.5 320.28 L 1130.94 325.7 L 1134.69 331.46 L 1137.81 336.13 L 1145.94 347.86 L 1150 353.49 L 1152.81 357.19 L 1155.62 360.76 L 1158.75 364.59 L 1161.56 367.93 L 1164.06 370.77 L 1166.88 373.85 L 1171.25 378.38 L 1173.75 380.75 L 1176.56 383.28 L 1178.75 385.14 L 1180.62 386.61 L 1183.12 388.4 L 1185.62 390.07 L 1187.81 391.42 L 1190 392.65 L 1191.88 393.6 L 1195.94 395.47 L 1198.12 396.39 L 1200.31 397.18 L 1202.81 397.87 L 1205.94 398.4 L 1218.75 400 L 1218.86 399.31 L 1222.61 400.38 L 1225.74 401.03 L 1227.61 401.31 L 1229.49 401.5 L 1232.62 401.6 L 1235.12 401.49 L 1236.99 401.27 L 1239.5 400.81 L 1241.37 400.33 L 1243.87 399.5 L 1245.75 398.73 L 1248.25 397.5 L 1250.12 396.41" clip-path="url(#pf3791add62)" style="fill: none; stroke-dasharray: 1.5,2.475; stroke-dashoffset: 0; stroke: #ff0000; stroke-width: 1.5"/></g><g><path d="M 975 81.67 L 984.38 97.5 L 993.76 113.62 L 1004.39 132.17 L 1016.27 153.17 L 1035.03 186.67 L 1044.4 203.63 L 1050.66 215.24 L 1061.91 236.68 L 1068.16 248.18 L 1073.17 257.09 L 1078.17 265.8 L 1083.8 275.42 L 1088.17 282.73 L 1093.17 290.79 L 1097.55 297.48 L 1101.3 302.9 L 1110.06 315.05 L 1113.81 320.42 L 1118.19 326.96 L 1129.44 344.23 L 1133.19 349.82 L 1136.94 355.28 L 1142.57 363.2 L 1148.2 370.81 L 1153.83 378.11 L 1160.08 385.87 L 1164.45 391.08 L 1168.83 396.11 L 1173.21 400.96 L 1177.59 405.61 L 1181.96 410.07 L 1186.34 414.34 L 1190.72 418.41 L 1194.47 421.74 L 1198.84 425.43 L 1203.22 428.92 L 1207.6 432.2 L 1211.35 434.84 L 1215.73 437.72 L 1219.48 440.01 L 1223.85 442.49 L 1227.61 444.43 L 1231.36 446.2 L 1234.48 447.52 L 1237.61 448.67 L 1240.74 449.62 L 1243.86 450.34 L 1246.36 450.72 L 1249.49 450.94 L 1251.99 450.89 L 1253.87 450.71 L 1255.12 450.52 L 1257.62 449.95 L 1260.12 449.14 L 1262.62 448.05 L 1265.12 446.67 L 1267.62 445 L 1270.12 443.01 L 1272 441.3" clip-path="url(#pf3791add62)" style="fill: none; stroke: #0000ff; stroke-width: 1.5"/></g><g><path d="M 975 81.67 L 985 98.57 L 995.01 115.79 L 1005.64 134.37 L 1018.14 156.5 L 1035.65 187.79 L 1043.78 202.49 L 1050.66 215.24 L 1058.79 230.75 L 1059.38 232.5 L 1063.75 242.29 L 1065.94 247.47 L 1067.81 252.11 L 1070.93 260.33 L 1078.74 281.63 L 1080.93 287.3 L 1084.05 295.15 L 1093.74 318.81 L 1099.36 332.21 L 1103.42 342.08 L 1105.61 347.09 L 1106.86 349.71 L 1108.11 352.07 L 1109.04 353.62 L 1111.86 357.96 L 1113.42 360.76 L 1115.29 364.52 L 1119.35 373.19 L 1121.23 377.02 L 1126.85 388.17 L 1131.54 397.12 L 1135.28 403.94 L 1144.66 420.54 L 1149.65 429.12 L 1155.28 438.2 L 1159.34 444.44 L 1162.77 449.34 L 1167.15 455.07 L 1171.52 460.38 L 1173.71 462.88 L 1175.89 465.25 L 1179.02 468.51 L 1181.83 471.33 L 1184.33 473.69 L 1186.51 475.61 L 1188.7 477.36 L 1191.2 479.15 L 1193.7 480.82 L 1196.51 482.54 L 1198.7 483.77 L 1201.2 485.08 L 1207.13 487.99 L 1209.63 489.12 L 1212.44 490.18 L 1213.69 490.55 L 1214.94 490.83 L 1217.75 491.26 L 1220.25 491.58 L 1222.44 491.76 L 1224.31 491.81" clip-path="url(#pf3791add62)" style="fill: none; stroke-dasharray: 9.6,2.4,1.5,2.4; stroke-dashoffset: 0; stroke: #0000ff; stroke-width: 1.5"/></g><g><path d="M 975 81.67 L 984.38 97.5 L 994.38 114.7 L 1005.01 133.27 L 1016.89 154.28 L 1035.65 187.79 L 1044.4 203.63 L 1050.66 215.24 L 1061.91 236.68 L 1068.16 248.18 L 1072.54 255.99 L 1077.54 264.72 L 1083.17 274.36 L 1087.55 281.7 L 1093.17 290.79 L 1098.18 298.4 L 1101.93 303.78 L 1111.93 317.7 L 1115.06 322.26 L 1118.19 326.96 L 1124.44 336.58 L 1148.44 374.02 L 1154.06 382.92 L 1156.25 386.26 L 1159.69 391.23 L 1163.44 396.39 L 1168.44 402.98 L 1171.88 407.32 L 1174.06 409.87 L 1177.81 414.06 L 1180.62 417.07 L 1183.44 419.95 L 1185.94 422.36 L 1188.12 424.35 L 1190.62 426.47 L 1193.44 428.73 L 1196.56 431.07 L 1199.38 433.01 L 1201.88 434.6 L 1205.31 436.61 L 1208.44 438.33 L 1211.25 439.73 L 1213.75 440.82 L 1216.25 441.74 L 1218.75 442.54 L 1220.94 443.16 L 1223.12 443.69 L 1225 444.06 L 1225.11 443.15 L 1229.48 445.34 L 1233.23 447.01 L 1236.99 448.46 L 1240.74 449.62 L 1243.24 450.22 L 1245.74 450.64 L 1248.24 450.89 L 1250.12 450.95 L 1251.99 450.89 L 1253.24 450.79 L 1255.74 450.4 L 1257.62 449.95 L 1258.87 449.58 L 1261.37 448.63 L 1263.25 447.73 L 1264.5 447.04 L 1267 445.45 L 1269.5 443.54 L 1272 441.3" clip-path="url(#pf3791add62)" style="fill: none; stroke-dasharray: 1.5,2.475; stroke-dashoffset: 0; stroke: #0000ff; stroke-width: 1.5"/></g><g><path d="M 982.75 513.56 L 982.75 22.56" style="fill: none; stroke: #000000; stroke-width: 0.8; stroke-linejoin: miter; stroke-linecap: square"/></g><g><path d="M 1276.44 513.56 L 1276.44 22.56" style="fill: none; stroke: #000000; stroke-width: 0.8; stroke-linejoin: miter; stroke-linecap: square"/></g><g><path d="M 982.75 513.56 L 1276.44 513.56" style="fill: none; stroke: #000000; stroke-width: 0.8; stroke-linejoin: miter; stroke-linecap: square"/></g><g><path d="M 982.75 22.56 L 1276.44 22.56" style="fill: none; stroke: #000000; stroke-width: 0.8; stroke-linejoin: miter; stroke-linecap: square"/></g><g><text style="font-size: 20px; font-family: 'DejaVu Sans', 'Liberation Sans', sans-serif; text-anchor: middle" x="1129.59" y="15.81" transform="rotate(-0 1129.59375 15.8125)">(c)</text></g></g><g><g><path d="M 101.94 1094.62 L 395.38 1094.62 L 395.38 567.25 L 101.94 567.25 z" style="fill: #ffffff"/></g><g><g><g><g><path d="M 0 0 L 0 5" transform="translate(105.47 1094.62)" style="stroke: #000000; stroke-width: 2"/></g></g><g><text style="font-size: 20px; font-family: 'DejaVu Sans', 'Liberation Sans', sans-serif; text-anchor: middle" x="105.47" y="1118.32" transform="rotate(-0 105.46875 1118.321875)">0.0</text></g></g><g><g><g><path d="M 0 0 L 0 5" transform="translate(196.04 1094.62)" style="stroke: #000000; stroke-width: 2"/></g></g><g><text style="font-size: 20px; font-family: 'DejaVu Sans', 'Liberation Sans', sans-serif; text-anchor: middle" x="196.04" y="1118.32" transform="rotate(-0 196.041667 1118.321875)">0.1</text></g></g><g><g><g><path d="M 0 0 L 0 5" transform="translate(286.61 1094.62)" style="stroke: #000000; stroke-width: 2"/></g></g><g><text style="font-size: 20px; font-family: 'DejaVu Sans', 'Liberation Sans', sans-serif; text-anchor: middle" x="286.61" y="1118.32" transform="rotate(-0 286.614583 1118.321875)">0.2</text></g></g><g><g><g><path d="M 0 0 L 0 5" transform="translate(377.19 1094.62)" style="stroke: #000000; stroke-width: 2"/></g></g><g><text style="font-size: 20px; font-family: 'DejaVu Sans', 'Liberation Sans', sans-serif; text-anchor: middle" x="377.19" y="1118.32" transform="rotate(-0 377.1875 1118.321875)">0.3</text></g></g><g><g><g><path d="M 0 0 L 0 2" transform="translate(123.58 1094.62)" style="stroke: #000000; stroke-width: 0.6"/></g></g></g><g><g><g><path d="M 0 0 L 0 2" transform="translate(141.7 1094.62)" style="stroke: #000000; stroke-width: 0.6"/></g></g></g><g><g><g><path d="M 0 0 L 0 2" transform="translate(159.81 1094.62)" style="stroke: #000000; stroke-width: 0.6"/></g></g></g><g><g><g><path d="M 0 0 L 0 2" transform="translate(177.93 1094.62)" style="stroke: #000000; stroke-width: 0.6"/></g></g></g><g><g><g><path d="M 0 0 L 0 2" transform="translate(214.16 1094.62)" style="stroke: #000000; stroke-width: 0.6"/></g></g></g><g><g><g><path d="M 0 0 L 0 2" transform="translate(232.27 1094.62)" style="stroke: #000000; stroke-width: 0.6"/></g></g></g><g><g><g><path d="M 0 0 L 0 2" transform="translate(250.39 1094.62)" style="stroke: #000000; stroke-width: 0.6"/></g></g></g><g><g><g><path d="M 0 0 L 0 2" transform="translate(268.5 1094.62)" style="stroke: #000000; stroke-width: 0.6"/></g></g></g><g><g><g><path d="M 0 0 L 0 2" transform="translate(304.73 1094.62)" style="stroke: #000000; stroke-width: 0.6"/></g></g></g><g><g><g><path d="M 0 0 L 0 2" transform="translate(322.84 1094.62)" style="stroke: #000000; stroke-width: 0.6"/></g></g></g><g><g><g><path d="M 0 0 L 0 2" transform="translate(340.96 1094.62)" style="stroke: #000000; stroke-width: 0.6"/></g></g></g><g><g><g><path d="M 0 0 L 0 2" transform="translate(359.07 1094.62)" style="stroke: #000000; stroke-width: 0.6"/></g></g></g><g><g><g><path d="M 0 0 L 0 2" transform="translate(395.3 1094.62)" style="stroke: #000000; stroke-width: 0.6"/></g></g></g><g><g transform="translate(205.31625 1149.685938)"><text><tspan x="14.89" y="-5.91" style="font-size: 22px; font-family: 'DejaVu Sans', 'Liberation Sans', sans-serif">̃</tspan><tspan x="19.65" y="-0.89" style="font-size: 22px; font-family: 'DejaVu Sans', 'Liberation Sans', sans-serif">=</tspan><tspan x="60.16" y="-5.61" style="font-size: 22px; font-family: 'DejaVu Sans', 'Liberation Sans', sans-serif">̃</tspan><tspan x="61.35" y="-0.89" style="font-size: 22px; font-family: 'DejaVu Sans', 'Liberation Sans', sans-serif">/</tspan><tspan x="80.07" y="-1.91" style="font-size: 22px; font-family: 'DejaVu Sans', 'Liberation Sans', sans-serif">̃</tspan><tspan x="0" y="-0.89" style="font-style: italic; font-size: 22px; font-family: 'DejaVu Sans', 'Liberation Sans', sans-serif">C</tspan><tspan x="42.37" y="-0.89" style="font-style: italic; font-size: 22px; font-family: 'DejaVu Sans', 'Liberation Sans', sans-serif">M</tspan><tspan x="68.76" y="-0.89" style="font-style: italic; font-size: 22px; font-family: 'DejaVu Sans', 'Liberation Sans', sans-serif">r</tspan><tspan x="78.02" y="2.72" style="font-style: italic; font-size: 15.4px; font-family: 'DejaVu Sans', 'Liberation Sans', sans-serif">s</tspan></text></g></g></g><g><g><g><g><path d="M 0 0 L -10 0" transform="translate(101.94 1067.81)" style="stroke: #000000; stroke-width: 2"/></g></g><g><text style="font-size: 20px; font-family: 'DejaVu Sans', 'Liberation Sans', sans-serif; text-anchor: end" x="88.44" y="1075.41" transform="rotate(-0 88.4375 1075.410938)">−300</text></g></g><g><g><g><path d="M 0 0 L -10 0" transform="translate(101.94 989.09)" style="stroke: #000000; stroke-width: 2"/></g></g><g><text style="font-size: 20px; font-family: 'DejaVu Sans', 'Liberation Sans', sans-serif; text-anchor: end" x="88.44" y="996.69" transform="rotate(-0 88.4375 996.692188)">−250</text></g></g><g><g><g><path d="M 0 0 L -10 0" transform="translate(101.94 910.38)" style="stroke: #000000; stroke-width: 2"/></g></g><g><text style="font-size: 20px; font-family: 'DejaVu Sans', 'Liberation Sans', sans-serif; text-anchor: end" x="88.44" y="917.97" transform="rotate(-0 88.4375 917.973438)">−200</text></g></g><g><g><g><path d="M 0 0 L -10 0" transform="translate(101.94 831.66)" style="stroke: #000000; stroke-width: 2"/></g></g><g><text style="font-size: 20px; font-family: 'DejaVu Sans', 'Liberation Sans', sans-serif; text-anchor: end" x="88.44" y="839.25" transform="rotate(-0 88.4375 839.254688)">−150</text></g></g><g><g><g><path d="M 0 0 L -10 0" transform="translate(101.94 752.94)" style="stroke: #000000; stroke-width: 2"/></g></g><g><text style="font-size: 20px; font-family: 'DejaVu Sans', 'Liberation Sans', sans-serif; text-anchor: end" x="88.44" y="760.54" transform="rotate(-0 88.4375 760.535938)">−100</text></g></g><g><g><g><path d="M 0 0 L -10 0" transform="translate(101.94 674.22)" style="stroke: #000000; stroke-width: 2"/></g></g><g><text style="font-size: 20px; font-family: 'DejaVu Sans', 'Liberation Sans', sans-serif; text-anchor: end" x="88.44" y="681.82" transform="rotate(-0 88.4375 681.817188)">−50</text></g></g><g><g><g><path d="M 0 0 L -10 0" transform="translate(101.94 595.5)" style="stroke: #000000; stroke-width: 2"/></g></g><g><text style="font-size: 20px; font-family: 'DejaVu Sans', 'Liberation Sans', sans-serif; text-anchor: end" x="88.44" y="603.1" transform="rotate(-0 88.4375 603.098438)">0</text></g></g><g><g><g><path d="M 0 0 L -5 0" transform="translate(101.94 1083.56)" style="stroke: #000000; stroke-width: 0.6"/></g></g></g><g><g><g><path d="M 0 0 L -5 0" transform="translate(101.94 1052.07)" style="stroke: #000000; stroke-width: 0.6"/></g></g></g><g><g><g><path d="M 0 0 L -5 0" transform="translate(101.94 1036.33)" style="stroke: #000000; stroke-width: 0.6"/></g></g></g><g><g><g><path d="M 0 0 L -5 0" transform="translate(101.94 1020.58)" style="stroke: #000000; stroke-width: 0.6"/></g></g></g><g><g><g><path d="M 0 0 L -5 0" transform="translate(101.94 1004.84)" style="stroke: #000000; stroke-width: 0.6"/></g></g></g><g><g><g><path d="M 0 0 L -5 0" transform="translate(101.94 973.35)" style="stroke: #000000; stroke-width: 0.6"/></g></g></g><g><g><g><path d="M 0 0 L -5 0" transform="translate(101.94 957.61)" style="stroke: #000000; stroke-width: 0.6"/></g></g></g><g><g><g><path d="M 0 0 L -5 0" transform="translate(101.94 941.86)" style="stroke: #000000; stroke-width: 0.6"/></g></g></g><g><g><g><path d="M 0 0 L -5 0" transform="translate(101.94 926.12)" style="stroke: #000000; stroke-width: 0.6"/></g></g></g><g><g><g><path d="M 0 0 L -5 0" transform="translate(101.94 894.63)" style="stroke: #000000; stroke-width: 0.6"/></g></g></g><g><g><g><path d="M 0 0 L -5 0" transform="translate(101.94 878.89)" style="stroke: #000000; stroke-width: 0.6"/></g></g></g><g><g><g><path d="M 0 0 L -5 0" transform="translate(101.94 863.14)" style="stroke: #000000; stroke-width: 0.6"/></g></g></g><g><g><g><path d="M 0 0 L -5 0" transform="translate(101.94 847.4)" style="stroke: #000000; stroke-width: 0.6"/></g></g></g><g><g><g><path d="M 0 0 L -5 0" transform="translate(101.94 815.91)" style="stroke: #000000; stroke-width: 0.6"/></g></g></g><g><g><g><path d="M 0 0 L -5 0" transform="translate(101.94 800.17)" style="stroke: #000000; stroke-width: 0.6"/></g></g></g><g><g><g><path d="M 0 0 L -5 0" transform="translate(101.94 784.42)" style="stroke: #000000; stroke-width: 0.6"/></g></g></g><g><g><g><path d="M 0 0 L -5 0" transform="translate(101.94 768.68)" style="stroke: #000000; stroke-width: 0.6"/></g></g></g><g><g><g><path d="M 0 0 L -5 0" transform="translate(101.94 737.19)" style="stroke: #000000; stroke-width: 0.6"/></g></g></g><g><g><g><path d="M 0 0 L -5 0" transform="translate(101.94 721.45)" style="stroke: #000000; stroke-width: 0.6"/></g></g></g><g><g><g><path d="M 0 0 L -5 0" transform="translate(101.94 705.71)" style="stroke: #000000; stroke-width: 0.6"/></g></g></g><g><g><g><path d="M 0 0 L -5 0" transform="translate(101.94 689.96)" style="stroke: #000000; stroke-width: 0.6"/></g></g></g><g><g><g><path d="M 0 0 L -5 0" transform="translate(101.94 658.48)" style="stroke: #000000; stroke-width: 0.6"/></g></g></g><g><g><g><path d="M 0 0 L -5 0" transform="translate(101.94 642.73)" style="stroke: #000000; stroke-width: 0.6"/></g></g></g><g><g><g><path d="M 0 0 L -5 0" transform="translate(101.94 626.99)" style="stroke: #000000; stroke-width: 0.6"/></g></g></g><g><g><g><path d="M 0 0 L -5 0" transform="translate(101.94 611.24)" style="stroke: #000000; stroke-width: 0.6"/></g></g></g><g><g><g><path d="M 0 0 L -5 0" transform="translate(101.94 579.76)" style="stroke: #000000; stroke-width: 0.6"/></g></g></g><g><g transform="translate(21.943125 950.355) rotate(-90)"><text><tspan x="0" y="-0.15" style="font-size: 22px; font-family: 'DejaVu Sans', 'Liberation Sans', sans-serif">(</tspan><tspan x="51.03" y="-0.15" style="font-size: 22px; font-family: 'DejaVu Sans', 'Liberation Sans', sans-serif">−</tspan><tspan x="88.29" y="-0.88" style="font-size: 22px; font-family: 'DejaVu Sans', 'Liberation Sans', sans-serif">̃</tspan><tspan x="117.1" y="-0.15" style="font-size: 22px; font-family: 'DejaVu Sans', 'Liberation Sans', sans-serif">)</tspan><tspan x="125.68" y="-0.15" style="font-size: 22px; font-family: 'DejaVu Sans', 'Liberation Sans', sans-serif">/</tspan><tspan x="175.54" y="-0.15" style="font-size: 22px; font-family: 'DejaVu Sans', 'Liberation Sans', sans-serif">×</tspan><tspan x="198.26" y="-0.15" style="font-size: 22px; font-family: 'DejaVu Sans', 'Liberation Sans', sans-serif">1</tspan><tspan x="212.26" y="-0.15" style="font-size: 22px; font-family: 'DejaVu Sans', 'Liberation Sans', sans-serif">0</tspan><tspan x="226.26" y="-0.15" style="font-size: 22px; font-family: 'DejaVu Sans', 'Liberation Sans', sans-serif">0</tspan><tspan x="8.58" y="-0.15" style="font-style: italic; font-size: 22px; font-family: 'DejaVu Sans', 'Liberation Sans', sans-serif">σ</tspan><tspan x="73.75" y="-0.15" style="font-style: italic; font-size: 22px; font-family: 'DejaVu Sans', 'Liberation Sans', sans-serif">σ</tspan><tspan x="133.09" y="-0.15" style="font-style: italic; font-size: 22px; font-family: 'DejaVu Sans', 'Liberation Sans', sans-serif">σ</tspan><tspan x="23.51" y="-8.57" style="font-style: italic; font-size: 15.4px; font-family: 'DejaVu Sans', 'Liberation Sans', sans-serif">G</tspan><tspan x="35.44" y="-8.57" style="font-style: italic; font-size: 15.4px; font-family: 'DejaVu Sans', 'Liberation Sans', sans-serif">R</tspan><tspan x="87.91" y="-8.57" style="font-style: italic; font-size: 15.4px; font-family: 'DejaVu Sans', 'Liberation Sans', sans-serif">S</tspan><tspan x="97.68" y="-8.57" style="font-style: italic; font-size: 15.4px; font-family: 'DejaVu Sans', 'Liberation Sans', sans-serif">T</tspan><tspan x="107.09" y="-8.57" style="font-style: italic; font-size: 15.4px; font-family: 'DejaVu Sans', 'Liberation Sans', sans-serif">T</tspan><tspan x="148.02" y="-8.57" style="font-style: italic; font-size: 15.4px; font-family: 'DejaVu Sans', 'Liberation Sans', sans-serif">G</tspan><tspan x="159.95" y="-8.57" style="font-style: italic; font-size: 15.4px; font-family: 'DejaVu Sans', 'Liberation Sans', sans-serif">R</tspan><tspan x="22.53" y="5.87" style="font-size: 15.4px; font-family: 'DejaVu Sans', 'Liberation Sans', sans-serif">2</tspan><tspan x="87.91" y="5.87" style="font-size: 15.4px; font-family: 'DejaVu Sans', 'Liberation Sans', sans-serif">2</tspan><tspan x="147.04" y="5.87" style="font-size: 15.4px; font-family: 'DejaVu Sans', 'Liberation Sans', sans-serif">2</tspan></text></g></g></g><g><path d="M 125 595.81 L 189.67 595.81 L 197.17 595.72 L 204.35 595.49 L 208.1 595.31 L 209.35 595.11 L 210.6 594.7 L 216.85 592.17 L 217.79 591.93 L 218.72 591.89 L 219.35 592.02 L 219.97 592.24 L 222.16 593.27 L 223.41 594.1 L 224.66 595.19 L 225.6 596.29 L 226.85 598.03 L 229.66 602.35 L 231.22 604.93 L 232.78 607.73 L 234.34 610.75 L 235.59 613.42 L 236.84 616.31 L 239.65 623.1 L 241.53 627.81 L 243.09 632.05 L 244.65 636.74 L 249.96 654.45 L 251.53 659.97 L 252.78 664.66 L 254.34 670.92 L 256.21 678.94 L 257.46 684.6 L 259.02 692.2 L 263.09 712.62 L 265.58 726.76 L 267.77 740.04 L 272.77 771.52 L 278.08 804.4 L 282.45 832.31 L 288.7 873.76 L 295.26 916.62 L 299.32 943.72 L 304.01 973.31 L 305.89 983.79 L 307.45 991.51 L 308.7 997.3 L 309.95 1002.64 L 310.88 1006.29 L 313.38 1014.88 L 314.32 1017.83 L 315.26 1020.5 L 316.19 1022.75 L 316.82 1023.97 L 318.38 1026.32 L 319.63 1028.02 L 320.88 1029.42 L 321.82 1030.18 L 322.76 1030.61 L 323.38 1030.69 L 324 1030.55 L 324.63 1030.22 L 325.25 1029.72 L 326.19 1028.71 L 327.44 1027.05 L 328.69 1025.18 L 329.32 1023.95 L 329.94 1022.46 L 330.57 1020.74 L 331.5 1017.84 L 333.38 1011.25 L 334.63 1005.72 L 335.88 999.4 L 336.81 994.2 L 339.31 978.38 L 341.19 965.94" clip-path="url(#pf0dd4347ae)" style="fill: none; stroke-dasharray: 9.6,2.4,1.5,2.4; stroke-dashoffset: 0; stroke: #000000; stroke-width: 1.5"/></g><g><path d="M 125 595.81 L 262.5 595.81 L 264.06 595.87 L 265.62 596.01 L 268.44 596.39 L 270.94 597 L 274.38 598.21 L 276.88 599.21 L 278.12 599.78 L 280.62 601.11 L 285.62 604.07 L 292.5 608.39 L 297.19 611.15 L 300 612.71 L 302.5 613.9 L 305.31 615.02 L 307.19 615.56 L 310.94 616.16 L 312.19 616.28 L 313.44 616.31 L 314.69 616.26 L 316.25 616.09 L 319.38 615.48 L 320.94 615.04 L 321.56 614.75 L 322.5 614.18 L 324.06 612.98 L 327.5 609.98 L 335.31 601.8 L 336.88 600.29 L 337.81 599.53 L 340 598.01 L 341.25 597.3 L 342.19 596.92 L 343.75 596.45 L 345 596.15 L 346.25 595.97 L 347.5 595.91 L 353.12 595.81 L 378.12 595.75" clip-path="url(#pf0dd4347ae)" style="fill: none; stroke-dasharray: 1.5,2.475; stroke-dashoffset: 0; stroke: #000000; stroke-width: 1.5"/></g><g><path d="M 115.12 595.81 L 190.08 595.81 L 198.83 595.72 L 206.64 595.5 L 207.26 595.43 L 208.2 595.13 L 209.13 594.67 L 211.95 593.05 L 215.38 591.61 L 216.94 591.13 L 218.19 591 L 218.82 591.06 L 219.44 591.2 L 220.69 591.65 L 222.25 592.38 L 223.5 593.29 L 225.38 595.07 L 226.62 596.49 L 228.19 598.56 L 230.06 601.33 L 231.93 604.58 L 234.75 610.07 L 236.93 614.81 L 240.37 622.68 L 241.93 626.42 L 243.49 630.46 L 245.05 634.92 L 246.93 640.69 L 249.11 647.7 L 250.99 654.03 L 252.55 659.64 L 254.11 665.64 L 257.86 681.18 L 263.79 707.47 L 266.6 720.98 L 270.04 738.81 L 273.47 757.68 L 277.22 779.2 L 280.03 796.35 L 284.4 824.27 L 289.4 857.95 L 291.28 870.14 L 293.15 881.45 L 295.34 893.74 L 297.52 905.22 L 301.58 925.35 L 304.71 941.66 L 306.27 949.35 L 307.52 954.74 L 309.08 960.8 L 310.64 966.34 L 312.2 971.47 L 315.01 980.24 L 316.26 983.59 L 317.2 985.52 L 318.76 988.23 L 319.7 989.64 L 320.32 990.37 L 320.63 990.65 L 321.26 991 L 321.57 991.06 L 322.51 991 L 323.76 990.7 L 325.32 990.06 L 325.94 989.66 L 326.57 988.84 L 327.51 987 L 329.69 981.46 L 330.94 977.76 L 332.19 973.4 L 334.06 965.96 L 335 961.63 L 336.56 953.23 L 337.81 945.31" clip-path="url(#pf0dd4347ae)" style="fill: none; stroke-dasharray: 9.6,2.4,1.5,2.4; stroke-dashoffset: 0; stroke: #ff0000; stroke-width: 1.5"/></g><g><path d="M 115.12 595.81 L 262.38 595.81 L 264.89 595.94 L 268.33 596.37 L 270.51 596.88 L 273.64 597.93 L 277.7 599.58 L 279.58 600.54 L 281.77 601.79 L 286.46 604.56 L 293.02 608.61 L 298.34 611.64 L 299.59 612.29 L 300.84 612.86 L 302.4 613.41 L 306.16 614.29 L 308.35 614.66 L 310.53 614.81 L 311.78 614.77 L 313.03 614.63 L 314.91 614.32 L 315.85 614.09 L 317.1 613.67 L 318.66 613.02 L 319.6 612.54 L 320.54 611.98 L 322.41 610.64 L 324.92 608.54 L 325.85 607.58 L 328.98 603.96 L 330.86 602.14 L 332.11 601.02 L 333.36 600.02 L 335.86 598.27 L 337.11 597.58 L 338.05 597.22 L 339.92 596.68 L 341.8 596.27 L 343.36 596.05 L 345.24 595.94 L 349.93 595.81 L 369.31 595.75" clip-path="url(#pf0dd4347ae)" style="fill: none; stroke-dasharray: 1.5,2.475; stroke-dashoffset: 0; stroke: #ff0000; stroke-width: 1.5"/></g><g><path d="M 129.38 595.81 L 189.71 595.81 L 196.89 595.72 L 203.46 595.53 L 208.15 595.31 L 209.09 595.17 L 210.34 594.79 L 215.96 592.71 L 217.21 592.42 L 218.15 592.39 L 219.4 592.68 L 221.28 593.41 L 222.53 594.17 L 223.15 594.65 L 223.78 595.25 L 224.4 596.01 L 225.34 597.36 L 227.84 601.44 L 231.59 607.1 L 233.16 609.7 L 234.09 611.44 L 235.03 613.39 L 235.97 615.56 L 237.22 618.69 L 239.72 625.21 L 241.28 629.48 L 242.85 634.02 L 244.1 637.93 L 250.04 658.56 L 251.91 665.44 L 253.79 672.9 L 255.04 678.18 L 256.29 684 L 257.22 688.88 L 258.16 694.65 L 260.35 709.54 L 261.6 717.34 L 268.48 757.67 L 276.29 806.37 L 279.73 825.64 L 281.29 835.22 L 282.23 841.83 L 283.17 849.35 L 283.79 855.96 L 285.05 871.7 L 285.36 874.85 L 286.3 882.45 L 287.55 890.96 L 290.36 908.39 L 296.3 949.66 L 300.05 976.43 L 302.86 994.99 L 305.68 1012.13 L 306.93 1019.02 L 308.49 1027.02 L 310.05 1034.56 L 311.3 1040.08 L 312.55 1045.03 L 313.8 1049.42 L 315.05 1053.41 L 315.99 1056.1 L 316.93 1058.51 L 318.18 1061.35 L 319.43 1063.89 L 320.68 1066.1 L 322.87 1069.29 L 323.49 1070.04 L 323.81 1070.32 L 324.12 1070.5 L 324.43 1070.56 L 325.06 1070.48 L 325.99 1070.06 L 326.93 1069.39 L 327.87 1068.57 L 328.5 1067.72 L 329.12 1066.48 L 329.75 1064.93 L 330.68 1062.23 L 331.93 1058.35 L 332.87 1055.05 L 333.81 1051.29 L 334.75 1047.14 L 336.62 1037.92 L 337.87 1030.59 L 339.75 1018.4 L 344.75 982.69" clip-path="url(#pf0dd4347ae)" style="fill: none; stroke-dasharray: 9.6,2.4,1.5,2.4; stroke-dashoffset: 0; stroke: #0000ff; stroke-width: 1.5"/></g><g><path d="M 129.38 595.81 L 262.5 595.81 L 264.38 595.89 L 266.56 596.12 L 269.06 596.52 L 271.56 597.23 L 273.44 597.92 L 276.25 599.07 L 278.44 600.09 L 280.94 601.5 L 285.62 604.39 L 292.5 608.97 L 296.56 611.45 L 300.94 613.9 L 305.94 616.35 L 308.44 617.35 L 311.25 618.11 L 313.75 618.62 L 315.62 618.75 L 316.88 618.69 L 318.44 618.5 L 320 618.21 L 321.56 617.83 L 323.12 617.4 L 323.75 617.16 L 324.38 616.84 L 325.31 616.23 L 326.56 615.26 L 329.38 612.85 L 331.25 611.11 L 335.62 606.55 L 339.38 602.36 L 342.19 599.66 L 343.12 598.84 L 344.06 598.15 L 344.69 597.8 L 346.25 597.18 L 348.12 596.59 L 349.69 596.24 L 350.94 596.08 L 354.06 595.9 L 358.75 595.8 L 379.69 595.75" clip-path="url(#pf0dd4347ae)" style="fill: none; stroke-dasharray: 1.5,2.475; stroke-dashoffset: 0; stroke: #0000ff; stroke-width: 1.5"/></g><g><path d="M 101.94 1094.62 L 101.94 567.25" style="fill: none; stroke: #000000; stroke-width: 0.8; stroke-linejoin: miter; stroke-linecap: square"/></g><g><path d="M 395.38 1094.62 L 395.38 567.25" style="fill: none; stroke: #000000; stroke-width: 0.8; stroke-linejoin: miter; stroke-linecap: square"/></g><g><path d="M 101.94 1094.62 L 395.38 1094.62" style="fill: none; stroke: #000000; stroke-width: 0.8; stroke-linejoin: miter; stroke-linecap: square"/></g><g><path d="M 101.94 567.25 L 395.38 567.25" style="fill: none; stroke: #000000; stroke-width: 0.8; stroke-linejoin: miter; stroke-linecap: square"/></g></g><g><g><path d="M 542.19 1094.62 L 836 1094.62 L 836 567.25 L 542.19 567.25 z" style="fill: #ffffff"/></g><g><g><g><g><path d="M 0 0 L 0 5" transform="translate(546.19 1094.62)" style="stroke: #000000; stroke-width: 2"/></g></g><g><text style="font-size: 20px; font-family: 'DejaVu Sans', 'Liberation Sans', sans-serif; text-anchor: middle" x="546.19" y="1118.32" transform="rotate(-0 546.1875 1118.321875)">0.0</text></g></g><g><g><g><path d="M 0 0 L 0 5" transform="translate(636.69 1094.62)" style="stroke: #000000; stroke-width: 2"/></g></g><g><text style="font-size: 20px; font-family: 'DejaVu Sans', 'Liberation Sans', sans-serif; text-anchor: middle" x="636.69" y="1118.32" transform="rotate(-0 636.6875 1118.321875)">0.1</text></g></g><g><g><g><path d="M 0 0 L 0 5" transform="translate(727.19 1094.62)" style="stroke: #000000; stroke-width: 2"/></g></g><g><text style="font-size: 20px; font-family: 'DejaVu Sans', 'Liberation Sans', sans-serif; text-anchor: middle" x="727.19" y="1118.32" transform="rotate(-0 727.1875 1118.321875)">0.2</text></g></g><g><g><g><path d="M 0 0 L 0 5" transform="translate(817.69 1094.62)" style="stroke: #000000; stroke-width: 2"/></g></g><g><text style="font-size: 20px; font-family: 'DejaVu Sans', 'Liberation Sans', sans-serif; text-anchor: middle" x="817.69" y="1118.32" transform="rotate(-0 817.6875 1118.321875)">0.3</text></g></g><g><g><g><path d="M 0 0 L 0 2" transform="translate(564.29 1094.62)" style="stroke: #000000; stroke-width: 0.6"/></g></g></g><g><g><g><path d="M 0 0 L 0 2" transform="translate(582.39 1094.62)" style="stroke: #000000; stroke-width: 0.6"/></g></g></g><g><g><g><path d="M 0 0 L 0 2" transform="translate(600.49 1094.62)" style="stroke: #000000; stroke-width: 0.6"/></g></g></g><g><g><g><path d="M 0 0 L 0 2" transform="translate(618.59 1094.62)" style="stroke: #000000; stroke-width: 0.6"/></g></g></g><g><g><g><path d="M 0 0 L 0 2" transform="translate(654.79 1094.62)" style="stroke: #000000; stroke-width: 0.6"/></g></g></g><g><g><g><path d="M 0 0 L 0 2" transform="translate(672.89 1094.62)" style="stroke: #000000; stroke-width: 0.6"/></g></g></g><g><g><g><path d="M 0 0 L 0 2" transform="translate(690.99 1094.62)" style="stroke: #000000; stroke-width: 0.6"/></g></g></g><g><g><g><path d="M 0 0 L 0 2" transform="translate(709.09 1094.62)" style="stroke: #000000; stroke-width: 0.6"/></g></g></g><g><g><g><path d="M 0 0 L 0 2" transform="translate(745.29 1094.62)" style="stroke: #000000; stroke-width: 0.6"/></g></g></g><g><g><g><path d="M 0 0 L 0 2" transform="translate(763.39 1094.62)" style="stroke: #000000; stroke-width: 0.6"/></g></g></g><g><g><g><path d="M 0 0 L 0 2" transform="translate(781.49 1094.62)" style="stroke: #000000; stroke-width: 0.6"/></g></g></g><g><g><g><path d="M 0 0 L 0 2" transform="translate(799.59 1094.62)" style="stroke: #000000; stroke-width: 0.6"/></g></g></g><g><g><g><path d="M 0 0 L 0 2" transform="translate(835.79 1094.62)" style="stroke: #000000; stroke-width: 0.6"/></g></g></g><g><g transform="translate(645.75375 1149.685938)"><text><tspan x="14.89" y="-5.91" style="font-size: 22px; font-family: 'DejaVu Sans', 'Liberation Sans', sans-serif">̃</tspan><tspan x="19.65" y="-0.89" style="font-size: 22px; font-family: 'DejaVu Sans', 'Liberation Sans', sans-serif">=</tspan><tspan x="60.16" y="-5.61" style="font-size: 22px; font-family: 'DejaVu Sans', 'Liberation Sans', sans-serif">̃</tspan><tspan x="61.35" y="-0.89" style="font-size: 22px; font-family: 'DejaVu Sans', 'Liberation Sans', sans-serif">/</tspan><tspan x="80.07" y="-1.91" style="font-size: 22px; font-family: 'DejaVu Sans', 'Liberation Sans', sans-serif">̃</tspan><tspan x="0" y="-0.89" style="font-style: italic; font-size: 22px; font-family: 'DejaVu Sans', 'Liberation Sans', sans-serif">C</tspan><tspan x="42.37" y="-0.89" style="font-style: italic; font-size: 22px; font-family: 'DejaVu Sans', 'Liberation Sans', sans-serif">M</tspan><tspan x="68.76" y="-0.89" style="font-style: italic; font-size: 22px; font-family: 'DejaVu Sans', 'Liberation Sans', sans-serif">r</tspan><tspan x="78.02" y="2.72" style="font-style: italic; font-size: 15.4px; font-family: 'DejaVu Sans', 'Liberation Sans', sans-serif">s</tspan></text></g></g></g><g><g><g><g><path d="M 0 0 L -10 0" transform="translate(542.19 1056)" style="stroke: #000000; stroke-width: 2"/></g></g><g><text style="font-size: 20px; font-family: 'DejaVu Sans', 'Liberation Sans', sans-serif; text-anchor: end" x="528.69" y="1063.6" transform="rotate(-0 528.6875 1063.598438)">−17.5</text></g></g><g><g><g><path d="M 0 0 L -10 0" transform="translate(542.19 989.8)" style="stroke: #000000; stroke-width: 2"/></g></g><g><text style="font-size: 20px; font-family: 'DejaVu Sans', 'Liberation Sans', sans-serif; text-anchor: end" x="528.69" y="997.4" transform="rotate(-0 528.6875 997.402009)">−15.0</text></g></g><g><g><g><path d="M 0 0 L -10 0" transform="translate(542.19 923.61)" style="stroke: #000000; stroke-width: 2"/></g></g><g><text style="font-size: 20px; font-family: 'DejaVu Sans', 'Liberation Sans', sans-serif; text-anchor: end" x="528.69" y="931.21" transform="rotate(-0 528.6875 931.20558)">−12.5</text></g></g><g><g><g><path d="M 0 0 L -10 0" transform="translate(542.19 857.41)" style="stroke: #000000; stroke-width: 2"/></g></g><g><text style="font-size: 20px; font-family: 'DejaVu Sans', 'Liberation Sans', sans-serif; text-anchor: end" x="528.69" y="865.01" transform="rotate(-0 528.6875 865.009152)">−10.0</text></g></g><g><g><g><path d="M 0 0 L -10 0" transform="translate(542.19 791.21)" style="stroke: #000000; stroke-width: 2"/></g></g><g><text style="font-size: 20px; font-family: 'DejaVu Sans', 'Liberation Sans', sans-serif; text-anchor: end" x="528.69" y="798.81" transform="rotate(-0 528.6875 798.812723)">−7.5</text></g></g><g><g><g><path d="M 0 0 L -10 0" transform="translate(542.19 725.02)" style="stroke: #000000; stroke-width: 2"/></g></g><g><text style="font-size: 20px; font-family: 'DejaVu Sans', 'Liberation Sans', sans-serif; text-anchor: end" x="528.69" y="732.62" transform="rotate(-0 528.6875 732.616295)">−5.0</text></g></g><g><g><g><path d="M 0 0 L -10 0" transform="translate(542.19 658.82)" style="stroke: #000000; stroke-width: 2"/></g></g><g><text style="font-size: 20px; font-family: 'DejaVu Sans', 'Liberation Sans', sans-serif; text-anchor: end" x="528.69" y="666.42" transform="rotate(-0 528.6875 666.419866)">−2.5</text></g></g><g><g><g><path d="M 0 0 L -10 0" transform="translate(542.19 592.62)" style="stroke: #000000; stroke-width: 2"/></g></g><g><text style="font-size: 20px; font-family: 'DejaVu Sans', 'Liberation Sans', sans-serif; text-anchor: end" x="528.69" y="600.22" transform="rotate(-0 528.6875 600.223438)">0.0</text></g></g><g><g><g><path d="M 0 0 L -5 0" transform="translate(542.19 1089.1)" style="stroke: #000000; stroke-width: 0.6"/></g></g></g><g><g><g><path d="M 0 0 L -5 0" transform="translate(542.19 1072.55)" style="stroke: #000000; stroke-width: 0.6"/></g></g></g><g><g><g><path d="M 0 0 L -5 0" transform="translate(542.19 1039.45)" style="stroke: #000000; stroke-width: 0.6"/></g></g></g><g><g><g><path d="M 0 0 L -5 0" transform="translate(542.19 1022.9)" style="stroke: #000000; stroke-width: 0.6"/></g></g></g><g><g><g><path d="M 0 0 L -5 0" transform="translate(542.19 1006.35)" style="stroke: #000000; stroke-width: 0.6"/></g></g></g><g><g><g><path d="M 0 0 L -5 0" transform="translate(542.19 973.25)" style="stroke: #000000; stroke-width: 0.6"/></g></g></g><g><g><g><path d="M 0 0 L -5 0" transform="translate(542.19 956.71)" style="stroke: #000000; stroke-width: 0.6"/></g></g></g><g><g><g><path d="M 0 0 L -5 0" transform="translate(542.19 940.16)" style="stroke: #000000; stroke-width: 0.6"/></g></g></g><g><g><g><path d="M 0 0 L -5 0" transform="translate(542.19 907.06)" style="stroke: #000000; stroke-width: 0.6"/></g></g></g><g><g><g><path d="M 0 0 L -5 0" transform="translate(542.19 890.51)" style="stroke: #000000; stroke-width: 0.6"/></g></g></g><g><g><g><path d="M 0 0 L -5 0" transform="translate(542.19 873.96)" style="stroke: #000000; stroke-width: 0.6"/></g></g></g><g><g><g><path d="M 0 0 L -5 0" transform="translate(542.19 840.86)" style="stroke: #000000; stroke-width: 0.6"/></g></g></g><g><g><g><path d="M 0 0 L -5 0" transform="translate(542.19 824.31)" style="stroke: #000000; stroke-width: 0.6"/></g></g></g><g><g><g><path d="M 0 0 L -5 0" transform="translate(542.19 807.76)" style="stroke: #000000; stroke-width: 0.6"/></g></g></g><g><g><g><path d="M 0 0 L -5 0" transform="translate(542.19 774.67)" style="stroke: #000000; stroke-width: 0.6"/></g></g></g><g><g><g><path d="M 0 0 L -5 0" transform="translate(542.19 758.12)" style="stroke: #000000; stroke-width: 0.6"/></g></g></g><g><g><g><path d="M 0 0 L -5 0" transform="translate(542.19 741.57)" style="stroke: #000000; stroke-width: 0.6"/></g></g></g><g><g><g><path d="M 0 0 L -5 0" transform="translate(542.19 708.47)" style="stroke: #000000; stroke-width: 0.6"/></g></g></g><g><g><g><path d="M 0 0 L -5 0" transform="translate(542.19 691.92)" style="stroke: #000000; stroke-width: 0.6"/></g></g></g><g><g><g><path d="M 0 0 L -5 0" transform="translate(542.19 675.37)" style="stroke: #000000; stroke-width: 0.6"/></g></g></g><g><g><g><path d="M 0 0 L -5 0" transform="translate(542.19 642.27)" style="stroke: #000000; stroke-width: 0.6"/></g></g></g><g><g><g><path d="M 0 0 L -5 0" transform="translate(542.19 625.72)" style="stroke: #000000; stroke-width: 0.6"/></g></g></g><g><g><g><path d="M 0 0 L -5 0" transform="translate(542.19 609.17)" style="stroke: #000000; stroke-width: 0.6"/></g></g></g><g><g><g><path d="M 0 0 L -5 0" transform="translate(542.19 576.08)" style="stroke: #000000; stroke-width: 0.6"/></g></g></g><g><g transform="translate(455.836875 949.475) rotate(-90)"><text><tspan x="0" y="-0.19" style="font-size: 22px; font-family: 'DejaVu Sans', 'Liberation Sans', sans-serif">(</tspan><tspan x="8.58" y="-0.19" style="font-size: 22px; font-family: 'DejaVu Sans', 'Liberation Sans', sans-serif">Σ</tspan><tspan x="50.22" y="-0.19" style="font-size: 22px; font-family: 'DejaVu Sans', 'Liberation Sans', sans-serif">−</tspan><tspan x="72.94" y="-0.19" style="font-size: 22px; font-family: 'DejaVu Sans', 'Liberation Sans', sans-serif">Σ</tspan><tspan x="87.46" y="-4.91" style="font-size: 22px; font-family: 'DejaVu Sans', 'Liberation Sans', sans-serif">̃</tspan><tspan x="116.24" y="-0.19" style="font-size: 22px; font-family: 'DejaVu Sans', 'Liberation Sans', sans-serif">)</tspan><tspan x="124.82" y="-0.19" style="font-size: 22px; font-family: 'DejaVu Sans', 'Liberation Sans', sans-serif">/</tspan><tspan x="132.23" y="-0.19" style="font-size: 22px; font-family: 'DejaVu Sans', 'Liberation Sans', sans-serif">Σ</tspan><tspan x="173.86" y="-0.19" style="font-size: 22px; font-family: 'DejaVu Sans', 'Liberation Sans', sans-serif">×</tspan><tspan x="196.58" y="-0.19" style="font-size: 22px; font-family: 'DejaVu Sans', 'Liberation Sans', sans-serif">1</tspan><tspan x="210.58" y="-0.19" style="font-size: 22px; font-family: 'DejaVu Sans', 'Liberation Sans', sans-serif">0</tspan><tspan x="224.58" y="-0.19" style="font-size: 22px; font-family: 'DejaVu Sans', 'Liberation Sans', sans-serif">0</tspan><tspan x="22.69" y="-8.61" style="font-style: italic; font-size: 15.4px; font-family: 'DejaVu Sans', 'Liberation Sans', sans-serif">G</tspan><tspan x="34.63" y="-8.61" style="font-style: italic; font-size: 15.4px; font-family: 'DejaVu Sans', 'Liberation Sans', sans-serif">R</tspan><tspan x="87.05" y="-8.61" style="font-style: italic; font-size: 15.4px; font-family: 'DejaVu Sans', 'Liberation Sans', sans-serif">S</tspan><tspan x="96.82" y="-8.61" style="font-style: italic; font-size: 15.4px; font-family: 'DejaVu Sans', 'Liberation Sans', sans-serif">T</tspan><tspan x="106.23" y="-8.61" style="font-style: italic; font-size: 15.4px; font-family: 'DejaVu Sans', 'Liberation Sans', sans-serif">T</tspan><tspan x="146.34" y="-8.61" style="font-style: italic; font-size: 15.4px; font-family: 'DejaVu Sans', 'Liberation Sans', sans-serif">G</tspan><tspan x="158.28" y="-8.61" style="font-style: italic; font-size: 15.4px; font-family: 'DejaVu Sans', 'Liberation Sans', sans-serif">R</tspan><tspan x="22.69" y="5.83" style="font-size: 15.4px; font-family: 'DejaVu Sans', 'Liberation Sans', sans-serif">2</tspan><tspan x="87.05" y="5.83" style="font-size: 15.4px; font-family: 'DejaVu Sans', 'Liberation Sans', sans-serif">2</tspan><tspan x="146.34" y="5.83" style="font-size: 15.4px; font-family: 'DejaVu Sans', 'Liberation Sans', sans-serif">2</tspan></text></g></g></g><g><path d="M 557.88 591.86 L 558.19 592.26 L 558.5 591.86 L 558.81 592.26 L 559.12 591.86 L 559.44 592.26 L 559.75 591.86 L 560.06 592.26 L 560.38 591.86 L 560.69 592.26 L 561 591.86 L 561.31 592.26 L 561.62 591.86 L 561.94 592.26 L 562.25 591.86 L 562.56 592.26 L 562.88 591.86 L 563.19 592.26 L 563.5 591.86 L 563.81 592.26 L 564.12 591.86 L 564.44 592.26 L 564.75 591.86 L 565.06 592.26 L 565.38 591.86 L 565.69 592.26 L 566 591.86 L 625.94 592.51 L 630 592.71 L 635 593.2 L 636.25 593.41 L 637.81 593.75 L 639.37 594.17 L 641.24 594.77 L 642.18 595.13 L 643.12 595.6 L 644.37 596.47 L 644.68 596.8 L 645.3 597.68 L 646.24 599.47 L 647.18 601.73 L 648.12 604.36 L 648.74 606.73 L 649.37 609.62 L 650.3 614.64 L 650.93 618.68 L 651.86 625.84 L 652.49 631.24 L 653.11 637.29 L 654.05 647.4 L 657.49 691 L 658.74 705.93 L 659.36 715.08 L 660.3 731.91 L 661.86 754.64 L 664.98 795.8 L 665.92 807.15 L 666.86 817.44 L 667.8 826.63 L 668.73 835.1 L 671.54 859.07 L 674.98 887.33 L 678.73 921.3 L 679.67 928.85 L 680.6 935.77 L 682.16 946.56 L 684.04 958.57 L 687.16 977.46 L 689.04 988.27 L 690.29 994.99 L 691.54 1001.14 L 693.41 1009.43 L 694.97 1015.82 L 696.85 1022.82 L 698.41 1028.05 L 700.59 1034.56 L 702.78 1040.43 L 704.66 1044.95 L 706.53 1049 L 709.34 1054.39 L 710.59 1056.6 L 711.84 1058.64 L 713.4 1060.94 L 714.96 1062.89 L 716.84 1064.93 L 718.09 1066.18 L 719.34 1067.3 L 720.27 1068.02 L 721.21 1068.61 L 721.84 1068.92 L 724.65 1069.93 L 726.52 1070.4 L 727.46 1070.53 L 728.4 1070.56 L 729.33 1070.48 L 730.27 1070.29 L 732.14 1069.64 L 733.71 1068.92 L 735.58 1067.95 L 736.83 1067.11 L 737.77 1066.32 L 738.7 1065.41 L 740.89 1062.94 L 743.08 1060.18 L 744.95 1057.33 L 747.14 1053.47 L 749.95 1048.05 L 751.82 1044.12 L 754.01 1039.14 L 756.51 1033.01 L 758.38 1028.1 L 760.57 1021.92 L 762.76 1015.29 L 764.32 1010.23 L 766.19 1003.77 L 769.94 989.93 L 774 973.48 L 778.06 956.24 L 781.5 942.81" clip-path="url(#p8b148425f8)" style="fill: none; stroke-dasharray: 9.6,2.4,1.5,2.4; stroke-dashoffset: 0; stroke: #000000; stroke-width: 1.5"/></g><g><path d="M 557.88 592.12 L 563.81 592.4 L 568.81 592.46 L 650.02 592.71 L 676.56 592.9 L 684.37 593.12 L 692.49 593.52 L 696.55 593.91 L 697.8 594.15 L 699.05 594.52 L 700.61 595.11 L 702.49 595.96 L 703.43 596.52 L 704.36 597.23 L 706.86 599.37 L 708.42 600.87 L 709.98 602.67 L 711.23 604.47 L 713.11 607.49 L 714.67 610.16 L 717.48 615.46 L 719.04 618.8 L 724.66 631.42 L 727.16 636.71 L 728.72 639.84 L 729.97 642.13 L 731.54 644.82 L 732.79 646.8 L 734.03 648.57 L 735.91 650.91 L 737.16 652.29 L 738.41 653.43 L 739.97 654.58 L 741.53 655.53 L 742.78 656.09 L 744.97 656.8 L 745.9 656.97 L 746.53 657 L 747.47 656.94 L 748.4 656.79 L 749.96 656.43 L 750.59 656.21 L 751.84 655.5 L 753.4 654.28 L 754.65 653.2 L 755.27 652.59 L 757.15 650.41 L 758.71 648.39 L 759.65 647.08 L 761.21 644.55 L 762.15 642.64 L 766.52 632.22 L 767.46 629.58 L 769.02 624.76 L 771.83 616.43 L 775.26 607.58 L 778.39 598.77 L 778.7 598.09 L 779.32 597.15 L 779.95 596.42 L 780.57 595.82 L 781.51 595.1 L 782.76 594.28 L 783.7 593.77 L 784.63 593.38 L 785.57 593.15 L 787.44 592.81 L 790.88 592.4 L 796.82 592.06 L 801.81 591.94 L 802.19 591.59 L 802.44 592.28 L 802.69 591.59 L 802.94 592.28 L 803.19 591.59 L 803.44 592.28 L 803.69 591.59 L 803.94 592.28 L 804.19 591.59 L 804.44 592.28 L 804.69 591.59 L 804.94 592.28 L 805.19 591.59 L 805.44 592.28 L 805.69 591.59 L 805.94 592.28 L 806.19 591.59 L 806.44 592.28 L 806.69 591.59 L 806.94 592.28 L 807.19 591.59 L 807.44 592.28 L 807.69 591.59 L 807.94 592.28 L 808.19 591.59 L 808.44 592.28 L 808.69 591.59 L 808.94 592.28 L 809.19 591.59 L 809.44 592.28 L 809.69 591.59 L 809.94 592.28 L 810.19 591.59 L 810.44 592.28 L 810.69 591.59 L 810.94 592.28 L 811.19 591.59 L 811.44 592.28 L 811.69 591.59 L 811.94 592.28 L 812.19 591.59 L 812.44 592.28 L 812.69 591.59 L 812.94 592.28 L 813.19 591.59 L 813.44 592.28 L 813.69 591.59 L 813.94 592.28 L 814.19 591.59 L 814.44 592.28 L 814.69 591.59 L 814.94 592.28 L 815.19 591.59 L 815.44 592.28 L 815.69 591.59 L 815.94 592.28 L 816.19 591.59 L 816.44 592.28 L 816.69 591.59 L 816.94 592.28 L 817.19 591.59 L 817.44 592.28 L 817.69 591.59 L 817.94 592.28 L 818.19 591.59 L 818.44 592.28 L 818.69 591.59 L 818.94 592.28 L 819.19 591.59 L 819.44 592.28 L 819.69 591.59 L 819.94 592.28 L 820.19 591.59 L 820.44 592.28 L 820.69 591.59 L 820.94 592.28" clip-path="url(#p8b148425f8)" style="fill: none; stroke-dasharray: 1.5,2.475; stroke-dashoffset: 0; stroke: #000000; stroke-width: 1.5"/></g><g><path d="M 555.62 592.44 L 625.27 592.5 L 629.33 592.66 L 634.64 593.16 L 635.89 593.34 L 637.45 593.66 L 640.58 594.55 L 642.45 595.25 L 643.39 595.76 L 644.01 596.18 L 644.64 596.75 L 644.95 597.14 L 645.89 598.73 L 646.82 600.83 L 647.76 603.3 L 648.39 605.31 L 649.32 609.41 L 650.26 614.38 L 650.88 618.38 L 651.82 625.49 L 652.45 630.84 L 653.07 636.85 L 654.01 646.89 L 657.44 690.44 L 659 709.54 L 659.32 714.29 L 659.94 726.11 L 660.88 740.78 L 663.69 779.01 L 665.56 802.92 L 667.12 820.14 L 668.69 834.69 L 671.81 861.35 L 678.06 912.8 L 679.93 927.13 L 681.49 937.76 L 683.05 947.74 L 684.61 957.1 L 686.18 965.87 L 688.36 977.39 L 690.24 986.69 L 691.8 993.87 L 693.36 1000.38 L 694.92 1006.21 L 696.8 1012.61 L 698.36 1017.47 L 700.23 1022.76 L 702.42 1028.28 L 704.6 1033.33 L 706.79 1037.83 L 708.66 1041.15 L 710.85 1044.5 L 713.04 1047.52 L 714.91 1049.74 L 715.85 1050.7 L 716.78 1051.54 L 718.35 1052.74 L 719.6 1053.61 L 720.84 1054.39 L 722.09 1055.06 L 723.03 1055.48 L 723.97 1055.81 L 727.09 1056.63 L 728.34 1056.82 L 729.28 1056.87 L 730.21 1056.84 L 731.46 1056.69 L 733.96 1056.13 L 736.15 1055.45 L 737.09 1055.09 L 737.71 1054.77 L 738.65 1054.19 L 740.21 1052.97 L 742.4 1050.92 L 743.64 1049.66 L 744.58 1048.62 L 746.14 1046.57 L 748.02 1043.77 L 751.45 1038.24 L 753.64 1034.53 L 755.2 1031.66 L 756.76 1028.52 L 758.01 1025.75 L 759.26 1022.61 L 760.82 1018.2 L 762.7 1012.51 L 764.88 1005.67 L 766.76 999.43 L 769.57 989.47 L 773.94 972.68 L 775.81 965.99 L 778 958.5" clip-path="url(#p8b148425f8)" style="fill: none; stroke-dasharray: 9.6,2.4,1.5,2.4; stroke-dashoffset: 0; stroke: #ff0000; stroke-width: 1.5"/></g><g><path d="M 555.62 592.12 L 561.88 592.4 L 567.19 592.46 L 649.06 592.71 L 675 592.89 L 683.44 593.14 L 691.25 593.52 L 695 593.89 L 696.25 594.15 L 697.5 594.52 L 699.06 595.11 L 700.94 595.95 L 701.88 596.53 L 703.12 597.49 L 705.62 599.6 L 707.19 601.13 L 708.44 602.6 L 709.69 604.38 L 712.81 609.4 L 714.38 612.16 L 715.94 615.12 L 717.19 617.71 L 723.12 630.59 L 725.31 635.07 L 726.88 638.12 L 728.12 640.36 L 729.69 642.97 L 730.94 644.91 L 732.19 646.65 L 734.06 648.96 L 735.31 650.32 L 736.56 651.45 L 738.12 652.6 L 739.38 653.38 L 740.62 653.97 L 742.81 654.71 L 743.44 654.83 L 744.06 654.88 L 745 654.82 L 745.94 654.66 L 747.5 654.27 L 748.12 654.01 L 749.38 653.21 L 751.56 651.39 L 753.12 649.8 L 755.62 646.72 L 757.19 644.54 L 758.44 642.47 L 759.38 640.52 L 760.94 636.79 L 762.81 632.62 L 763.75 630.33 L 768.75 615.86 L 772.5 606.48 L 775.31 598.75 L 775.94 597.52 L 776.56 596.72 L 777.19 596.06 L 778.12 595.29 L 779.06 594.66 L 780.31 593.92 L 781.25 593.49 L 781.88 593.29 L 783.12 593.03 L 786.25 592.56 L 789.69 592.27 L 796.56 591.96 L 812.5 591.94" clip-path="url(#p8b148425f8)" style="fill: none; stroke-dasharray: 1.5,2.475; stroke-dashoffset: 0; stroke: #ff0000; stroke-width: 1.5"/></g><g><path d="M 569.75 592.69 L 626.94 592.64 L 630.69 592.75 L 634.12 592.96 L 637.56 593.3 L 640.69 593.72 L 642.56 594.05 L 643.19 594.38 L 643.81 594.93 L 644.75 596.05 L 646.94 599 L 647.56 599.68 L 649.12 601.17 L 650.06 602.28 L 651 603.84 L 651.62 605.31 L 651.94 606.8 L 652.25 608.88 L 653.19 616.4 L 654.75 627.49 L 655.38 632.64 L 657.56 655.05 L 659.12 670.06 L 660.06 680.31 L 661.62 700.19 L 663.5 719.15 L 667.56 765.35 L 669.44 784.83 L 671.94 809.22 L 673.5 823.84 L 679.75 880.32 L 681.31 892.7 L 683.19 905.86 L 685.06 917.98 L 687.88 935.3 L 690.06 948.15 L 691.94 958.65 L 694.12 970.24 L 696.94 984.42 L 698.81 993.27 L 700.69 1001.37 L 702.88 1009.94 L 704.75 1016.66 L 706.31 1021.64 L 708.19 1026.81 L 710.38 1032.19 L 712.56 1036.89 L 713.81 1039.24 L 715.38 1041.96 L 716.62 1044.03 L 717.88 1045.95 L 719.44 1048.03 L 720.38 1049.07 L 721 1049.65 L 722.25 1050.66 L 723.5 1051.57 L 724.75 1052.35 L 725.69 1052.83 L 726.62 1053.2 L 727.56 1053.45 L 729.12 1053.78 L 730.06 1053.87 L 730.69 1053.86 L 731.62 1053.72 L 733.19 1053.2 L 734.12 1052.76 L 735.38 1052.06 L 737.56 1050.69 L 738.19 1050.24 L 739.75 1048.79 L 741.31 1046.99 L 744.12 1043.22 L 746 1040.39 L 748.19 1036.5 L 750.38 1032.14 L 752.25 1028.14 L 754.12 1023.74 L 756 1018.93 L 758.19 1012.89 L 759.75 1008.17 L 761.62 1002.12 L 764.75 991.6 L 766.94 983.89 L 770.69 969.79 L 773.81 957.03 L 775.06 951.5 L 779.44 931.17 L 782.25 918.78 L 785.06 906.75" clip-path="url(#p8b148425f8)" style="fill: none; stroke-dasharray: 9.6,2.4,1.5,2.4; stroke-dashoffset: 0; stroke: #0000ff; stroke-width: 1.5"/></g><g><path d="M 569.75 592.12 L 572.56 592.43 L 577.88 592.48 L 654.48 592.72 L 679.8 592.9 L 688.56 593.18 L 695.75 593.55 L 699.5 593.94 L 700.75 594.22 L 702 594.61 L 703.57 595.22 L 705.44 596.1 L 706.38 596.71 L 707.32 597.44 L 709.82 599.58 L 711.38 601.12 L 712.63 602.58 L 713.88 604.36 L 715.76 607.35 L 717.32 610 L 720.14 615.25 L 721.7 618.56 L 727.33 631.03 L 729.83 636.25 L 731.39 639.34 L 732.64 641.59 L 734.21 644.23 L 735.46 646.18 L 736.71 647.91 L 738.58 650.2 L 739.83 651.54 L 741.08 652.65 L 742.65 653.76 L 744.21 654.68 L 745.46 655.24 L 747.96 656.01 L 748.9 656.18 L 749.53 656.23 L 750.46 656.19 L 751.4 656.08 L 752.97 655.77 L 753.9 655.51 L 755.15 654.88 L 756.72 653.76 L 758.59 652.19 L 759.53 651.23 L 760.47 650.16 L 762.97 646.98 L 763.91 645.62 L 764.85 644.09 L 765.47 642.92 L 766.1 641.54 L 767.66 637.76 L 769.54 633.51 L 770.47 631.19 L 775.48 616.42 L 776.41 613.92 L 779.23 606.83 L 782.04 598.93 L 782.67 597.66 L 783.29 596.83 L 784.23 595.86 L 785.17 595.13 L 786.42 594.32 L 787.36 593.8 L 788.3 593.4 L 790.48 592.93 L 793.61 592.5 L 797.99 592.18 L 803.62 591.96 L 822.06 591.94" clip-path="url(#p8b148425f8)" style="fill: none; stroke-dasharray: 1.5,2.475; stroke-dashoffset: 0; stroke: #0000ff; stroke-width: 1.5"/></g><g><path d="M 542.19 1094.62 L 542.19 567.25" style="fill: none; stroke: #000000; stroke-width: 0.8; stroke-linejoin: miter; stroke-linecap: square"/></g><g><path d="M 836 1094.62 L 836 567.25" style="fill: none; stroke: #000000; stroke-width: 0.8; stroke-linejoin: miter; stroke-linecap: square"/></g><g><path d="M 542.19 1094.62 L 836 1094.62" style="fill: none; stroke: #000000; stroke-width: 0.8; stroke-linejoin: miter; stroke-linecap: square"/></g><g><path d="M 542.19 567.25 L 836 567.25" style="fill: none; stroke: #000000; stroke-width: 0.8; stroke-linejoin: miter; stroke-linecap: square"/></g><g><g><path d="M 556.19 1084.62 L 651.01 1084.62 Q 655.01 1084.62 655.01 1080.62 L 655.01 1005.76 Q 655.01 1001.76 651.01 1001.76 L 556.19 1001.76 Q 552.19 1001.76 552.19 1005.76 L 552.19 1080.62 Q 552.19 1084.62 556.19 1084.62 z" style="fill: #ffffff; opacity: 0.8; stroke: #cccccc; stroke-linejoin: miter"/></g><g><path d="M 554.29 1012.05 L 574.29 1012.05 L 594.29 1012.05" style="fill: none; stroke-dasharray: 9.6,2.4,1.5,2.4; stroke-dashoffset: 0; stroke: #000000; stroke-width: 1.5"/></g><g><text style="font-size: 20px; font-family: 'DejaVu Sans', 'Liberation Sans', sans-serif; text-anchor: start" x="610.29" y="1019.05" transform="rotate(-0 610.2875 1019.053125)">sly</text></g><g><path d="M 554.29 1041.71 L 574.29 1041.71 L 594.29 1041.71" style="fill: none; stroke-dasharray: 9.6,2.4,1.5,2.4; stroke-dashoffset: 0; stroke: #ff0000; stroke-width: 1.5"/></g><g><text style="font-size: 20px; font-family: 'DejaVu Sans', 'Liberation Sans', sans-serif; text-anchor: start" x="610.29" y="1048.71" transform="rotate(-0 610.2875 1048.709375)">fps</text></g><g><path d="M 554.29 1071.37 L 574.29 1071.37 L 594.29 1071.37" style="fill: none; stroke-dasharray: 9.6,2.4,1.5,2.4; stroke-dashoffset: 0; stroke: #0000ff; stroke-width: 1.5"/></g><g><text style="font-size: 20px; font-family: 'DejaVu Sans', 'Liberation Sans', sans-serif; text-anchor: start" x="610.29" y="1078.37" transform="rotate(-0 610.2875 1078.365625)">ms1</text></g></g></g><g><g><path d="M 982.75 1094.62 L 1276.44 1094.62 L 1276.44 567.25 L 982.75 567.25 z" style="fill: #ffffff"/></g><g><g><g><g><path d="M 0 0 L 0 5" transform="translate(986.62 1094.62)" style="stroke: #000000; stroke-width: 2"/></g></g><g><text style="font-size: 20px; font-family: 'DejaVu Sans', 'Liberation Sans', sans-serif; text-anchor: middle" x="986.62" y="1118.32" transform="rotate(-0 986.625 1118.321875)">0.0</text></g></g><g><g><g><path d="M 0 0 L 0 5" transform="translate(1077.12 1094.62)" style="stroke: #000000; stroke-width: 2"/></g></g><g><text style="font-size: 20px; font-family: 'DejaVu Sans', 'Liberation Sans', sans-serif; text-anchor: middle" x="1077.12" y="1118.32" transform="rotate(-0 1077.125 1118.321875)">0.1</text></g></g><g><g><g><path d="M 0 0 L 0 5" transform="translate(1167.62 1094.62)" style="stroke: #000000; stroke-width: 2"/></g></g><g><text style="font-size: 20px; font-family: 'DejaVu Sans', 'Liberation Sans', sans-serif; text-anchor: middle" x="1167.62" y="1118.32" transform="rotate(-0 1167.625 1118.321875)">0.2</text></g></g><g><g><g><path d="M 0 0 L 0 5" transform="translate(1258.12 1094.62)" style="stroke: #000000; stroke-width: 2"/></g></g><g><text style="font-size: 20px; font-family: 'DejaVu Sans', 'Liberation Sans', sans-serif; text-anchor: middle" x="1258.12" y="1118.32" transform="rotate(-0 1258.125 1118.321875)">0.3</text></g></g><g><g><g><path d="M 0 0 L 0 2" transform="translate(1004.73 1094.62)" style="stroke: #000000; stroke-width: 0.6"/></g></g></g><g><g><g><path d="M 0 0 L 0 2" transform="translate(1022.83 1094.62)" style="stroke: #000000; stroke-width: 0.6"/></g></g></g><g><g><g><path d="M 0 0 L 0 2" transform="translate(1040.92 1094.62)" style="stroke: #000000; stroke-width: 0.6"/></g></g></g><g><g><g><path d="M 0 0 L 0 2" transform="translate(1059.03 1094.62)" style="stroke: #000000; stroke-width: 0.6"/></g></g></g><g><g><g><path d="M 0 0 L 0 2" transform="translate(1095.22 1094.62)" style="stroke: #000000; stroke-width: 0.6"/></g></g></g><g><g><g><path d="M 0 0 L 0 2" transform="translate(1113.33 1094.62)" style="stroke: #000000; stroke-width: 0.6"/></g></g></g><g><g><g><path d="M 0 0 L 0 2" transform="translate(1131.42 1094.62)" style="stroke: #000000; stroke-width: 0.6"/></g></g></g><g><g><g><path d="M 0 0 L 0 2" transform="translate(1149.53 1094.62)" style="stroke: #000000; stroke-width: 0.6"/></g></g></g><g><g><g><path d="M 0 0 L 0 2" transform="translate(1185.72 1094.62)" style="stroke: #000000; stroke-width: 0.6"/></g></g></g><g><g><g><path d="M 0 0 L 0 2" transform="translate(1203.83 1094.62)" style="stroke: #000000; stroke-width: 0.6"/></g></g></g><g><g><g><path d="M 0 0 L 0 2" transform="translate(1221.92 1094.62)" style="stroke: #000000; stroke-width: 0.6"/></g></g></g><g><g><g><path d="M 0 0 L 0 2" transform="translate(1240.03 1094.62)" style="stroke: #000000; stroke-width: 0.6"/></g></g></g><g><g><g><path d="M 0 0 L 0 2" transform="translate(1276.22 1094.62)" style="stroke: #000000; stroke-width: 0.6"/></g></g></g><g><g transform="translate(1086.25375 1149.685938)"><text><tspan x="14.89" y="-5.91" style="font-size: 22px; font-family: 'DejaVu Sans', 'Liberation Sans', sans-serif">̃</tspan><tspan x="19.65" y="-0.89" style="font-size: 22px; font-family: 'DejaVu Sans', 'Liberation Sans', sans-serif">=</tspan><tspan x="60.16" y="-5.61" style="font-size: 22px; font-family: 'DejaVu Sans', 'Liberation Sans', sans-serif">̃</tspan><tspan x="61.35" y="-0.89" style="font-size: 22px; font-family: 'DejaVu Sans', 'Liberation Sans', sans-serif">/</tspan><tspan x="80.07" y="-1.91" style="font-size: 22px; font-family: 'DejaVu Sans', 'Liberation Sans', sans-serif">̃</tspan><tspan x="0" y="-0.89" style="font-style: italic; font-size: 22px; font-family: 'DejaVu Sans', 'Liberation Sans', sans-serif">C</tspan><tspan x="42.37" y="-0.89" style="font-style: italic; font-size: 22px; font-family: 'DejaVu Sans', 'Liberation Sans', sans-serif">M</tspan><tspan x="68.76" y="-0.89" style="font-style: italic; font-size: 22px; font-family: 'DejaVu Sans', 'Liberation Sans', sans-serif">r</tspan><tspan x="78.02" y="2.72" style="font-style: italic; font-size: 15.4px; font-family: 'DejaVu Sans', 'Liberation Sans', sans-serif">s</tspan></text></g></g></g><g><g><g><g><path d="M 0 0 L -10 0" transform="translate(982.75 1056)" style="stroke: #000000; stroke-width: 2"/></g></g><g><text style="font-size: 20px; font-family: 'DejaVu Sans', 'Liberation Sans', sans-serif; text-anchor: end" x="969.25" y="1063.6" transform="rotate(-0 969.25 1063.598438)">−17.5</text></g></g><g><g><g><path d="M 0 0 L -10 0" transform="translate(982.75 989.8)" style="stroke: #000000; stroke-width: 2"/></g></g><g><text style="font-size: 20px; font-family: 'DejaVu Sans', 'Liberation Sans', sans-serif; text-anchor: end" x="969.25" y="997.4" transform="rotate(-0 969.25 997.402009)">−15.0</text></g></g><g><g><g><path d="M 0 0 L -10 0" transform="translate(982.75 923.61)" style="stroke: #000000; stroke-width: 2"/></g></g><g><text style="font-size: 20px; font-family: 'DejaVu Sans', 'Liberation Sans', sans-serif; text-anchor: end" x="969.25" y="931.21" transform="rotate(-0 969.25 931.20558)">−12.5</text></g></g><g><g><g><path d="M 0 0 L -10 0" transform="translate(982.75 857.41)" style="stroke: #000000; stroke-width: 2"/></g></g><g><text style="font-size: 20px; font-family: 'DejaVu Sans', 'Liberation Sans', sans-serif; text-anchor: end" x="969.25" y="865.01" transform="rotate(-0 969.25 865.009152)">−10.0</text></g></g><g><g><g><path d="M 0 0 L -10 0" transform="translate(982.75 791.21)" style="stroke: #000000; stroke-width: 2"/></g></g><g><text style="font-size: 20px; font-family: 'DejaVu Sans', 'Liberation Sans', sans-serif; text-anchor: end" x="969.25" y="798.81" transform="rotate(-0 969.25 798.812723)">−7.5</text></g></g><g><g><g><path d="M 0 0 L -10 0" transform="translate(982.75 725.02)" style="stroke: #000000; stroke-width: 2"/></g></g><g><text style="font-size: 20px; font-family: 'DejaVu Sans', 'Liberation Sans', sans-serif; text-anchor: end" x="969.25" y="732.62" transform="rotate(-0 969.25 732.616295)">−5.0</text></g></g><g><g><g><path d="M 0 0 L -10 0" transform="translate(982.75 658.82)" style="stroke: #000000; stroke-width: 2"/></g></g><g><text style="font-size: 20px; font-family: 'DejaVu Sans', 'Liberation Sans', sans-serif; text-anchor: end" x="969.25" y="666.42" transform="rotate(-0 969.25 666.419866)">−2.5</text></g></g><g><g><g><path d="M 0 0 L -10 0" transform="translate(982.75 592.62)" style="stroke: #000000; stroke-width: 2"/></g></g><g><text style="font-size: 20px; font-family: 'DejaVu Sans', 'Liberation Sans', sans-serif; text-anchor: end" x="969.25" y="600.22" transform="rotate(-0 969.25 600.223438)">0.0</text></g></g><g><g><g><path d="M 0 0 L -5 0" transform="translate(982.75 1089.1)" style="stroke: #000000; stroke-width: 0.6"/></g></g></g><g><g><g><path d="M 0 0 L -5 0" transform="translate(982.75 1072.55)" style="stroke: #000000; stroke-width: 0.6"/></g></g></g><g><g><g><path d="M 0 0 L -5 0" transform="translate(982.75 1039.45)" style="stroke: #000000; stroke-width: 0.6"/></g></g></g><g><g><g><path d="M 0 0 L -5 0" transform="translate(982.75 1022.9)" style="stroke: #000000; stroke-width: 0.6"/></g></g></g><g><g><g><path d="M 0 0 L -5 0" transform="translate(982.75 1006.35)" style="stroke: #000000; stroke-width: 0.6"/></g></g></g><g><g><g><path d="M 0 0 L -5 0" transform="translate(982.75 973.25)" style="stroke: #000000; stroke-width: 0.6"/></g></g></g><g><g><g><path d="M 0 0 L -5 0" transform="translate(982.75 956.71)" style="stroke: #000000; stroke-width: 0.6"/></g></g></g><g><g><g><path d="M 0 0 L -5 0" transform="translate(982.75 940.16)" style="stroke: #000000; stroke-width: 0.6"/></g></g></g><g><g><g><path d="M 0 0 L -5 0" transform="translate(982.75 907.06)" style="stroke: #000000; stroke-width: 0.6"/></g></g></g><g><g><g><path d="M 0 0 L -5 0" transform="translate(982.75 890.51)" style="stroke: #000000; stroke-width: 0.6"/></g></g></g><g><g><g><path d="M 0 0 L -5 0" transform="translate(982.75 873.96)" style="stroke: #000000; stroke-width: 0.6"/></g></g></g><g><g><g><path d="M 0 0 L -5 0" transform="translate(982.75 840.86)" style="stroke: #000000; stroke-width: 0.6"/></g></g></g><g><g><g><path d="M 0 0 L -5 0" transform="translate(982.75 824.31)" style="stroke: #000000; stroke-width: 0.6"/></g></g></g><g><g><g><path d="M 0 0 L -5 0" transform="translate(982.75 807.76)" style="stroke: #000000; stroke-width: 0.6"/></g></g></g><g><g><g><path d="M 0 0 L -5 0" transform="translate(982.75 774.67)" style="stroke: #000000; stroke-width: 0.6"/></g></g></g><g><g><g><path d="M 0 0 L -5 0" transform="translate(982.75 758.12)" style="stroke: #000000; stroke-width: 0.6"/></g></g></g><g><g><g><path d="M 0 0 L -5 0" transform="translate(982.75 741.57)" style="stroke: #000000; stroke-width: 0.6"/></g></g></g><g><g><g><path d="M 0 0 L -5 0" transform="translate(982.75 708.47)" style="stroke: #000000; stroke-width: 0.6"/></g></g></g><g><g><g><path d="M 0 0 L -5 0" transform="translate(982.75 691.92)" style="stroke: #000000; stroke-width: 0.6"/></g></g></g><g><g><g><path d="M 0 0 L -5 0" transform="translate(982.75 675.37)" style="stroke: #000000; stroke-width: 0.6"/></g></g></g><g><g><g><path d="M 0 0 L -5 0" transform="translate(982.75 642.27)" style="stroke: #000000; stroke-width: 0.6"/></g></g></g><g><g><g><path d="M 0 0 L -5 0" transform="translate(982.75 625.72)" style="stroke: #000000; stroke-width: 0.6"/></g></g></g><g><g><g><path d="M 0 0 L -5 0" transform="translate(982.75 609.17)" style="stroke: #000000; stroke-width: 0.6"/></g></g></g><g><g><g><path d="M 0 0 L -5 0" transform="translate(982.75 576.08)" style="stroke: #000000; stroke-width: 0.6"/></g></g></g><g><g transform="translate(896.399375 939.245) rotate(-90)"><text><tspan x="0" y="-0.5" style="font-size: 22px; font-family: 'DejaVu Sans', 'Liberation Sans', sans-serif">(</tspan><tspan x="43.86" y="-0.5" style="font-size: 22px; font-family: 'DejaVu Sans', 'Liberation Sans', sans-serif">−</tspan><tspan x="76.15" y="-5.91" style="font-size: 22px; font-family: 'DejaVu Sans', 'Liberation Sans', sans-serif">̃</tspan><tspan x="102.09" y="-0.5" style="font-size: 22px; font-family: 'DejaVu Sans', 'Liberation Sans', sans-serif">)</tspan><tspan x="110.67" y="-0.5" style="font-size: 22px; font-family: 'DejaVu Sans', 'Liberation Sans', sans-serif">/</tspan><tspan x="153.36" y="-0.5" style="font-size: 22px; font-family: 'DejaVu Sans', 'Liberation Sans', sans-serif">×</tspan><tspan x="176.08" y="-0.5" style="font-size: 22px; font-family: 'DejaVu Sans', 'Liberation Sans', sans-serif">1</tspan><tspan x="190.07" y="-0.5" style="font-size: 22px; font-family: 'DejaVu Sans', 'Liberation Sans', sans-serif">0</tspan><tspan x="204.07" y="-0.5" style="font-size: 22px; font-family: 'DejaVu Sans', 'Liberation Sans', sans-serif">0</tspan><tspan x="8.58" y="-0.5" style="font-style: italic; font-size: 22px; font-family: 'DejaVu Sans', 'Liberation Sans', sans-serif">j</tspan><tspan x="66.58" y="-0.5" style="font-style: italic; font-size: 22px; font-family: 'DejaVu Sans', 'Liberation Sans', sans-serif">j</tspan><tspan x="118.08" y="-0.5" style="font-style: italic; font-size: 22px; font-family: 'DejaVu Sans', 'Liberation Sans', sans-serif">j</tspan><tspan x="16.33" y="-8.92" style="font-style: italic; font-size: 15.4px; font-family: 'DejaVu Sans', 'Liberation Sans', sans-serif">G</tspan><tspan x="28.27" y="-8.92" style="font-style: italic; font-size: 15.4px; font-family: 'DejaVu Sans', 'Liberation Sans', sans-serif">R</tspan><tspan x="72.9" y="-8.92" style="font-style: italic; font-size: 15.4px; font-family: 'DejaVu Sans', 'Liberation Sans', sans-serif">S</tspan><tspan x="82.67" y="-8.92" style="font-style: italic; font-size: 15.4px; font-family: 'DejaVu Sans', 'Liberation Sans', sans-serif">T</tspan><tspan x="92.08" y="-8.92" style="font-style: italic; font-size: 15.4px; font-family: 'DejaVu Sans', 'Liberation Sans', sans-serif">T</tspan><tspan x="125.84" y="-8.92" style="font-style: italic; font-size: 15.4px; font-family: 'DejaVu Sans', 'Liberation Sans', sans-serif">G</tspan><tspan x="137.77" y="-8.92" style="font-style: italic; font-size: 15.4px; font-family: 'DejaVu Sans', 'Liberation Sans', sans-serif">R</tspan><tspan x="14.7" y="5.52" style="font-size: 15.4px; font-family: 'DejaVu Sans', 'Liberation Sans', sans-serif">2</tspan><tspan x="72.9" y="5.52" style="font-size: 15.4px; font-family: 'DejaVu Sans', 'Liberation Sans', sans-serif">2</tspan><tspan x="124.2" y="5.52" style="font-size: 15.4px; font-family: 'DejaVu Sans', 'Liberation Sans', sans-serif">2</tspan></text></g></g></g><g><path d="M 998.44 591.86 L 998.75 592.26 L 999.06 591.86 L 999.38 592.26 L 999.69 591.86 L 1000 592.26 L 1000.31 591.86 L 1000.62 592.26 L 1000.94 591.86 L 1001.25 592.26 L 1001.56 591.86 L 1001.88 592.26 L 1002.19 591.86 L 1002.5 592.26 L 1002.81 591.86 L 1003.12 592.26 L 1003.44 591.86 L 1003.75 592.26 L 1004.06 591.86 L 1004.38 592.26 L 1004.69 591.86 L 1005 592.26 L 1005.31 591.86 L 1005.62 592.26 L 1005.94 591.86 L 1006.25 592.26 L 1006.56 591.86 L 1066.5 592.51 L 1070.56 592.71 L 1075.56 593.2 L 1076.81 593.41 L 1078.37 593.75 L 1079.93 594.17 L 1081.81 594.77 L 1082.74 595.13 L 1083.68 595.6 L 1084.93 596.47 L 1085.24 596.8 L 1085.87 597.68 L 1086.8 599.47 L 1087.74 601.73 L 1088.68 604.36 L 1089.3 606.73 L 1089.93 609.62 L 1090.86 614.64 L 1091.49 618.68 L 1092.43 625.84 L 1093.05 631.24 L 1093.68 637.29 L 1094.61 647.4 L 1098.05 691 L 1099.3 705.93 L 1099.92 715.08 L 1100.86 731.91 L 1102.42 754.64 L 1105.55 795.8 L 1106.48 807.15 L 1107.42 817.44 L 1108.36 826.63 L 1109.3 835.1 L 1112.11 859.07 L 1115.54 887.33 L 1119.29 921.3 L 1120.23 928.85 L 1121.17 935.77 L 1122.73 946.56 L 1124.6 958.57 L 1127.73 977.46 L 1129.6 988.27 L 1130.85 994.99 L 1132.1 1001.14 L 1133.97 1009.43 L 1135.53 1015.82 L 1137.41 1022.82 L 1138.97 1028.05 L 1141.16 1034.56 L 1143.34 1040.43 L 1145.22 1044.95 L 1147.09 1049 L 1149.9 1054.39 L 1151.15 1056.6 L 1152.4 1058.64 L 1153.96 1060.94 L 1155.53 1062.89 L 1157.4 1064.93 L 1158.65 1066.18 L 1159.9 1067.3 L 1160.84 1068.02 L 1161.77 1068.61 L 1162.4 1068.92 L 1165.21 1069.93 L 1167.08 1070.4 L 1168.02 1070.53 L 1168.96 1070.56 L 1169.9 1070.48 L 1170.83 1070.29 L 1172.71 1069.64 L 1174.27 1068.92 L 1176.14 1067.95 L 1177.39 1067.11 L 1178.33 1066.32 L 1179.27 1065.41 L 1181.45 1062.94 L 1183.64 1060.18 L 1185.51 1057.33 L 1187.7 1053.47 L 1190.51 1048.05 L 1192.39 1044.12 L 1194.57 1039.14 L 1197.07 1033.01 L 1198.95 1028.1 L 1201.13 1021.92 L 1203.32 1015.29 L 1204.88 1010.23 L 1206.76 1003.77 L 1210.5 989.93 L 1214.57 973.48 L 1218.63 956.24 L 1222.06 942.81" clip-path="url(#pecdbf5314e)" style="fill: none; stroke-dasharray: 9.6,2.4,1.5,2.4; stroke-dashoffset: 0; stroke: #000000; stroke-width: 1.5"/></g><g><path d="M 998.44 592.12 L 1004.37 592.4 L 1009.37 592.46 L 1090.58 592.71 L 1117.13 592.9 L 1124.94 593.12 L 1133.06 593.52 L 1137.12 593.91 L 1138.37 594.15 L 1139.62 594.52 L 1141.18 595.11 L 1143.05 595.96 L 1143.99 596.52 L 1144.92 597.23 L 1147.42 599.37 L 1148.99 600.87 L 1150.55 602.67 L 1151.8 604.47 L 1153.67 607.49 L 1155.23 610.16 L 1158.04 615.46 L 1159.6 618.8 L 1165.23 631.42 L 1167.73 636.71 L 1169.29 639.84 L 1170.54 642.13 L 1172.1 644.82 L 1173.35 646.8 L 1174.6 648.57 L 1176.47 650.91 L 1177.72 652.29 L 1178.97 653.43 L 1180.53 654.58 L 1182.09 655.53 L 1183.34 656.09 L 1185.53 656.8 L 1186.47 656.97 L 1187.09 657 L 1188.03 656.94 L 1188.96 656.79 L 1190.53 656.43 L 1191.15 656.21 L 1192.4 655.5 L 1193.96 654.28 L 1195.21 653.2 L 1195.84 652.59 L 1197.71 650.41 L 1199.27 648.39 L 1200.21 647.08 L 1201.77 644.55 L 1202.71 642.64 L 1207.08 632.22 L 1208.02 629.58 L 1209.58 624.76 L 1212.39 616.43 L 1215.83 607.58 L 1218.95 598.77 L 1219.26 598.09 L 1219.89 597.15 L 1220.51 596.42 L 1221.14 595.82 L 1222.07 595.1 L 1223.32 594.28 L 1224.26 593.77 L 1225.2 593.38 L 1226.13 593.15 L 1228.01 592.81 L 1231.44 592.4 L 1237.38 592.06 L 1242.38 591.94 L 1242.75 591.59 L 1243 592.28 L 1243.25 591.59 L 1243.5 592.28 L 1243.75 591.59 L 1244 592.28 L 1244.25 591.59 L 1244.5 592.28 L 1244.75 591.59 L 1245 592.28 L 1245.25 591.59 L 1245.5 592.28 L 1245.75 591.59 L 1246 592.28 L 1246.25 591.59 L 1246.5 592.28 L 1246.75 591.59 L 1247 592.28 L 1247.25 591.59 L 1247.5 592.28 L 1247.75 591.59 L 1248 592.28 L 1248.25 591.59 L 1248.5 592.28 L 1248.75 591.59 L 1249 592.28 L 1249.25 591.59 L 1249.5 592.28 L 1249.75 591.59 L 1250 592.28 L 1250.25 591.59 L 1250.5 592.28 L 1250.75 591.59 L 1251 592.28 L 1251.25 591.59 L 1251.5 592.28 L 1251.75 591.59 L 1252 592.28 L 1252.25 591.59 L 1252.5 592.28 L 1252.75 591.59 L 1253 592.28 L 1253.25 591.59 L 1253.5 592.28 L 1253.75 591.59 L 1254 592.28 L 1254.25 591.59 L 1254.5 592.28 L 1254.75 591.59 L 1255 592.28 L 1255.25 591.59 L 1255.5 592.28 L 1255.75 591.59 L 1256 592.28 L 1256.25 591.59 L 1256.5 592.28 L 1256.75 591.59 L 1257 592.28 L 1257.25 591.59 L 1257.5 592.28 L 1257.75 591.59 L 1258 592.28 L 1258.25 591.59 L 1258.5 592.28 L 1258.75 591.59 L 1259 592.28 L 1259.25 591.59 L 1259.5 592.28 L 1259.75 591.59 L 1260 592.28 L 1260.25 591.59 L 1260.5 592.28 L 1260.75 591.59 L 1261 592.28 L 1261.25 591.59 L 1261.5 592.28" clip-path="url(#pecdbf5314e)" style="fill: none; stroke-dasharray: 1.5,2.475; stroke-dashoffset: 0; stroke: #000000; stroke-width: 1.5"/></g><g><path d="M 996.19 592.44 L 1065.84 592.5 L 1069.9 592.66 L 1075.21 593.16 L 1076.45 593.34 L 1078.02 593.66 L 1081.14 594.55 L 1083.01 595.25 L 1083.95 595.76 L 1084.58 596.18 L 1085.2 596.75 L 1085.51 597.14 L 1086.45 598.73 L 1087.39 600.83 L 1088.32 603.3 L 1088.95 605.31 L 1089.88 609.41 L 1090.82 614.38 L 1091.45 618.38 L 1092.38 625.49 L 1093.01 630.84 L 1093.63 636.85 L 1094.57 646.89 L 1098.01 690.44 L 1099.57 709.54 L 1099.88 714.29 L 1100.5 726.11 L 1101.44 740.78 L 1104.25 779.01 L 1106.13 802.92 L 1107.69 820.14 L 1109.25 834.69 L 1112.37 861.35 L 1118.62 912.8 L 1120.49 927.13 L 1122.05 937.76 L 1123.62 947.74 L 1125.18 957.1 L 1126.74 965.87 L 1128.93 977.39 L 1130.8 986.69 L 1132.36 993.87 L 1133.92 1000.38 L 1135.48 1006.21 L 1137.36 1012.61 L 1138.92 1017.47 L 1140.79 1022.76 L 1142.98 1028.28 L 1145.17 1033.33 L 1147.35 1037.83 L 1149.23 1041.15 L 1151.41 1044.5 L 1153.6 1047.52 L 1155.47 1049.74 L 1156.41 1050.7 L 1157.35 1051.54 L 1158.91 1052.74 L 1160.16 1053.61 L 1161.41 1054.39 L 1162.66 1055.06 L 1163.59 1055.48 L 1164.53 1055.81 L 1167.65 1056.63 L 1168.9 1056.82 L 1169.84 1056.87 L 1170.78 1056.84 L 1172.03 1056.69 L 1174.52 1056.13 L 1176.71 1055.45 L 1177.65 1055.09 L 1178.27 1054.77 L 1179.21 1054.19 L 1180.77 1052.97 L 1182.96 1050.92 L 1184.21 1049.66 L 1185.14 1048.62 L 1186.71 1046.57 L 1188.58 1043.77 L 1192.01 1038.24 L 1194.2 1034.53 L 1195.76 1031.66 L 1197.32 1028.52 L 1198.57 1025.75 L 1199.82 1022.61 L 1201.38 1018.2 L 1203.26 1012.51 L 1205.44 1005.67 L 1207.32 999.43 L 1210.13 989.47 L 1214.5 972.68 L 1216.38 965.99 L 1218.56 958.5" clip-path="url(#pecdbf5314e)" style="fill: none; stroke-dasharray: 9.6,2.4,1.5,2.4; stroke-dashoffset: 0; stroke: #ff0000; stroke-width: 1.5"/></g><g><path d="M 996.19 592.12 L 1002.44 592.4 L 1007.75 592.46 L 1089.62 592.71 L 1115.56 592.89 L 1124 593.14 L 1131.81 593.52 L 1135.56 593.89 L 1136.81 594.15 L 1138.06 594.52 L 1139.62 595.11 L 1141.5 595.95 L 1142.44 596.53 L 1143.69 597.49 L 1146.19 599.6 L 1147.75 601.13 L 1149 602.6 L 1150.25 604.38 L 1153.38 609.4 L 1154.94 612.16 L 1156.5 615.12 L 1157.75 617.71 L 1163.69 630.59 L 1165.88 635.07 L 1167.44 638.12 L 1168.69 640.36 L 1170.25 642.97 L 1171.5 644.91 L 1172.75 646.65 L 1174.62 648.96 L 1175.88 650.32 L 1177.12 651.45 L 1178.69 652.6 L 1179.94 653.38 L 1181.19 653.97 L 1183.38 654.71 L 1184 654.83 L 1184.62 654.88 L 1185.56 654.82 L 1186.5 654.66 L 1188.06 654.27 L 1188.69 654.01 L 1189.94 653.21 L 1192.12 651.39 L 1193.69 649.8 L 1196.19 646.72 L 1197.75 644.54 L 1199 642.47 L 1199.94 640.52 L 1201.5 636.79 L 1203.38 632.62 L 1204.31 630.33 L 1209.31 615.86 L 1213.06 606.48 L 1215.88 598.75 L 1216.5 597.52 L 1217.12 596.72 L 1217.75 596.06 L 1218.69 595.29 L 1219.62 594.66 L 1220.88 593.92 L 1221.81 593.49 L 1222.44 593.29 L 1223.69 593.03 L 1226.81 592.56 L 1230.25 592.27 L 1237.12 591.96 L 1253.06 591.94" clip-path="url(#pecdbf5314e)" style="fill: none; stroke-dasharray: 1.5,2.475; stroke-dashoffset: 0; stroke: #ff0000; stroke-width: 1.5"/></g><g><path d="M 1010.31 592.69 L 1067.5 592.64 L 1071.25 592.75 L 1074.69 592.96 L 1078.12 593.3 L 1081.25 593.72 L 1083.12 594.05 L 1083.75 594.38 L 1084.38 594.93 L 1085.31 596.05 L 1087.5 599 L 1088.12 599.68 L 1089.69 601.17 L 1090.62 602.28 L 1091.56 603.84 L 1092.19 605.31 L 1092.5 606.8 L 1092.81 608.88 L 1093.75 616.4 L 1095.31 627.49 L 1095.94 632.64 L 1098.12 655.05 L 1099.69 670.06 L 1100.62 680.31 L 1102.19 700.19 L 1104.06 719.15 L 1108.12 765.35 L 1110 784.83 L 1112.5 809.22 L 1114.06 823.84 L 1120.31 880.32 L 1121.88 892.7 L 1123.75 905.86 L 1125.62 917.98 L 1128.44 935.3 L 1130.62 948.15 L 1132.5 958.65 L 1134.69 970.24 L 1137.5 984.42 L 1139.38 993.27 L 1141.25 1001.37 L 1143.44 1009.94 L 1145.31 1016.66 L 1146.88 1021.64 L 1148.75 1026.81 L 1150.94 1032.19 L 1153.12 1036.89 L 1154.38 1039.24 L 1155.94 1041.96 L 1157.19 1044.03 L 1158.44 1045.95 L 1160 1048.03 L 1160.94 1049.07 L 1161.56 1049.65 L 1162.81 1050.66 L 1164.06 1051.57 L 1165.31 1052.35 L 1166.25 1052.83 L 1167.19 1053.2 L 1168.12 1053.45 L 1169.69 1053.78 L 1170.62 1053.87 L 1171.25 1053.86 L 1172.19 1053.72 L 1173.75 1053.2 L 1174.69 1052.76 L 1175.94 1052.06 L 1178.12 1050.69 L 1178.75 1050.24 L 1180.31 1048.79 L 1181.88 1046.99 L 1184.69 1043.22 L 1186.56 1040.39 L 1188.75 1036.5 L 1190.94 1032.14 L 1192.81 1028.14 L 1194.69 1023.74 L 1196.56 1018.93 L 1198.75 1012.89 L 1200.31 1008.17 L 1202.19 1002.12 L 1205.31 991.6 L 1207.5 983.89 L 1211.25 969.79 L 1214.38 957.03 L 1215.62 951.5 L 1220 931.17 L 1222.81 918.78 L 1225.62 906.75" clip-path="url(#pecdbf5314e)" style="fill: none; stroke-dasharray: 9.6,2.4,1.5,2.4; stroke-dashoffset: 0; stroke: #0000ff; stroke-width: 1.5"/></g><g><path d="M 1010.31 592.12 L 1013.13 592.43 L 1018.44 592.48 L 1095.04 592.72 L 1120.37 592.9 L 1129.12 593.18 L 1136.31 593.55 L 1140.06 593.94 L 1141.31 594.22 L 1142.57 594.61 L 1144.13 595.22 L 1146 596.1 L 1146.94 596.71 L 1147.88 597.44 L 1150.38 599.58 L 1151.95 601.12 L 1153.2 602.58 L 1154.45 604.36 L 1156.32 607.35 L 1157.89 610 L 1160.7 615.25 L 1162.26 618.56 L 1167.89 631.03 L 1170.39 636.25 L 1171.96 639.34 L 1173.21 641.59 L 1174.77 644.23 L 1176.02 646.18 L 1177.27 647.91 L 1179.15 650.2 L 1180.4 651.54 L 1181.65 652.65 L 1183.21 653.76 L 1184.77 654.68 L 1186.02 655.24 L 1188.53 656.01 L 1189.46 656.18 L 1190.09 656.23 L 1191.03 656.19 L 1191.96 656.08 L 1193.53 655.77 L 1194.47 655.51 L 1195.72 654.88 L 1197.28 653.76 L 1199.16 652.19 L 1200.09 651.23 L 1201.03 650.16 L 1203.53 646.98 L 1204.47 645.62 L 1205.41 644.09 L 1206.03 642.92 L 1206.66 641.54 L 1208.22 637.76 L 1210.1 633.51 L 1211.04 631.19 L 1216.04 616.42 L 1216.98 613.92 L 1219.79 606.83 L 1222.61 598.93 L 1223.23 597.66 L 1223.86 596.83 L 1224.79 595.86 L 1225.73 595.13 L 1226.98 594.32 L 1227.92 593.8 L 1228.86 593.4 L 1231.05 592.93 L 1234.17 592.5 L 1238.55 592.18 L 1244.18 591.96 L 1262.62 591.94" clip-path="url(#pecdbf5314e)" style="fill: none; stroke-dasharray: 1.5,2.475; stroke-dashoffset: 0; stroke: #0000ff; stroke-width: 1.5"/></g><g><path d="M 982.75 1094.62 L 982.75 567.25" style="fill: none; stroke: #000000; stroke-width: 0.8; stroke-linejoin: miter; stroke-linecap: square"/></g><g><path d="M 1276.44 1094.62 L 1276.44 567.25" style="fill: none; stroke: #000000; stroke-width: 0.8; stroke-linejoin: miter; stroke-linecap: square"/></g><g><path d="M 982.75 1094.62 L 1276.44 1094.62" style="fill: none; stroke: #000000; stroke-width: 0.8; stroke-linejoin: miter; stroke-linecap: square"/></g><g><path d="M 982.75 567.25 L 1276.44 567.25" style="fill: none; stroke: #000000; stroke-width: 0.8; stroke-linejoin: miter; stroke-linecap: square"/></g></g><g><text style="font-size: 20px; font-family: 'DejaVu Sans', 'Liberation Sans', sans-serif; text-anchor: middle" x="248.66" y="1178.75" transform="rotate(-0 248.65625 1178.75)">d)</text></g><g><text style="font-size: 20px; font-family: 'DejaVu Sans', 'Liberation Sans', sans-serif; text-anchor: middle" x="689.09" y="1178.75" transform="rotate(-0 689.09375 1178.75)">e)</text></g><g><text style="font-size: 20px; font-family: 'DejaVu Sans', 'Liberation Sans', sans-serif; text-anchor: middle" x="1129.59" y="1178.75" transform="rotate(-0 1129.59375 1178.75)">f)</text></g><g><path d="M 677 32.88 L 821.62 32.88 Q 825.62 32.88 825.62 36.88 L 825.62 113.25 Q 825.62 117.25 821.62 117.25 L 677 117.25 Q 673 117.25 673 113.25 L 673 36.88 Q 673 32.88 677 32.88 z" style="fill: #ffffff; opacity: 0.8; stroke: #cccccc; stroke-linejoin: miter"/></g><g><path d="M 115.75 1029.12 L 260.62 1029.12 Q 264.62 1029.12 264.62 1033.12 L 264.62 1080.5 Q 264.62 1084.5 260.62 1084.5 L 115.75 1084.5 Q 111.75 1084.5 111.75 1080.5 L 111.75 1033.12 Q 111.75 1029.12 115.75 1029.12 z" style="fill: #ffffff; opacity: 0.8; stroke: #cccccc; stroke-linejoin: miter"/></g><g><path d="M 675 42.94 L 715 42.94" style="fill: none; stroke: #000000; stroke-width: 1.5; stroke-linecap: square"/></g><g><path d="M 675 73.25 L 715 73.25" style="fill: none; stroke-dasharray: 9.6,2.4,1.5,2.4; stroke-dashoffset: 0; stroke: #000000; stroke-width: 1.5"/></g><g><path d="M 675 103.94 L 715 103.94" style="fill: none; stroke-dasharray: 1.5,2.475; stroke-dashoffset: 0; stroke: #000000; stroke-width: 1.5"/></g><g><path d="M 113.75 1040.25 L 153.75 1040.25" style="fill: none; stroke-dasharray: 9.6,2.4,1.5,2.4; stroke-dashoffset: 0; stroke: #000000; stroke-width: 1.5"/></g><g><path d="M 113.75 1070.75 L 153.75 1070.75" style="fill: none; stroke-dasharray: 1.5,2.475; stroke-dashoffset: 0; stroke: #000000; stroke-width: 1.5"/></g><g><text style="font-size: 20px; font-family: 'DejaVu Sans', 'Liberation Sans', sans-serif; text-anchor: start" x="731.5" y="49.94" transform="rotate(-0 731.5 49.9375)">GR</text></g><g><g transform="translate(731.5 81.1875)"><text><tspan x="0" y="-0.67" style="font-style: italic; font-size: 20px; font-family: 'DejaVu Sans', 'Liberation Sans', sans-serif">β</tspan><tspan x="16.66" y="-0.67" style="font-size: 20px; font-family: 'DejaVu Sans', 'Liberation Sans', sans-serif">=</tspan><tspan x="41.21" y="-0.67" style="font-size: 20px; font-family: 'DejaVu Sans', 'Liberation Sans', sans-serif">−</tspan><tspan x="61.87" y="-0.67" style="font-size: 20px; font-family: 'DejaVu Sans', 'Liberation Sans', sans-serif">6</tspan></text></g></g><g><g transform="translate(731.5 111.75)"><text><tspan x="0" y="-0.67" style="font-style: italic; font-size: 20px; font-family: 'DejaVu Sans', 'Liberation Sans', sans-serif">β</tspan><tspan x="16.66" y="-0.67" style="font-size: 20px; font-family: 'DejaVu Sans', 'Liberation Sans', sans-serif">=</tspan><tspan x="41.21" y="-0.67" style="font-size: 20px; font-family: 'DejaVu Sans', 'Liberation Sans', sans-serif">−</tspan><tspan x="61.87" y="-0.67" style="font-size: 20px; font-family: 'DejaVu Sans', 'Liberation Sans', sans-serif">4</tspan><tspan x="74.59" y="-0.67" style="font-size: 20px; font-family: 'DejaVu Sans', 'Liberation Sans', sans-serif">.</tspan><tspan x="80.95" y="-0.67" style="font-size: 20px; font-family: 'DejaVu Sans', 'Liberation Sans', sans-serif">5</tspan></text></g></g><g><g transform="translate(170.25 1048.1875)"><text><tspan x="0" y="-0.67" style="font-style: italic; font-size: 20px; font-family: 'DejaVu Sans', 'Liberation Sans', sans-serif">β</tspan><tspan x="16.66" y="-0.67" style="font-size: 20px; font-family: 'DejaVu Sans', 'Liberation Sans', sans-serif">=</tspan><tspan x="41.21" y="-0.67" style="font-size: 20px; font-family: 'DejaVu Sans', 'Liberation Sans', sans-serif">−</tspan><tspan x="61.87" y="-0.67" style="font-size: 20px; font-family: 'DejaVu Sans', 'Liberation Sans', sans-serif">6</tspan></text></g></g><g><g transform="translate(170.25 1078.9375)"><text><tspan x="0" y="-0.67" style="font-style: italic; font-size: 20px; font-family: 'DejaVu Sans', 'Liberation Sans', sans-serif">β</tspan><tspan x="16.66" y="-0.67" style="font-size: 20px; font-family: 'DejaVu Sans', 'Liberation Sans', sans-serif">=</tspan><tspan x="41.21" y="-0.67" style="font-size: 20px; font-family: 'DejaVu Sans', 'Liberation Sans', sans-serif">−</tspan><tspan x="61.87" y="-0.67" style="font-size: 20px; font-family: 'DejaVu Sans', 'Liberation Sans', sans-serif">4</tspan><tspan x="74.59" y="-0.67" style="font-size: 20px; font-family: 'DejaVu Sans', 'Liberation Sans', sans-serif">.</tspan><tspan x="80.95" y="-0.67" style="font-size: 20px; font-family: 'DejaVu Sans', 'Liberation Sans', sans-serif">5</tspan></text></g></g></g><defs><clipPath id="pccfc6aae4c"><rect x="102" y="22.56" width="293.375" height="491"/></clipPath><clipPath id="peeb04d4fbf"><rect x="542.19" y="22.56" width="293.8125" height="491"/></clipPath><clipPath id="pf3791add62"><rect x="982.75" y="22.56" width="293.6875" height="491"/></clipPath><clipPath id="pf0dd4347ae"><rect x="101.94" y="567.25" width="293.4375" height="527.375"/></clipPath><clipPath id="p8b148425f8"><rect x="542.19" y="567.25" width="293.8125" height="527.375"/></clipPath><clipPath id="pecdbf5314e"><rect x="982.75" y="567.25" width="293.6875" height="527.375"/></clipPath></defs></svg>
</body>
</html>
